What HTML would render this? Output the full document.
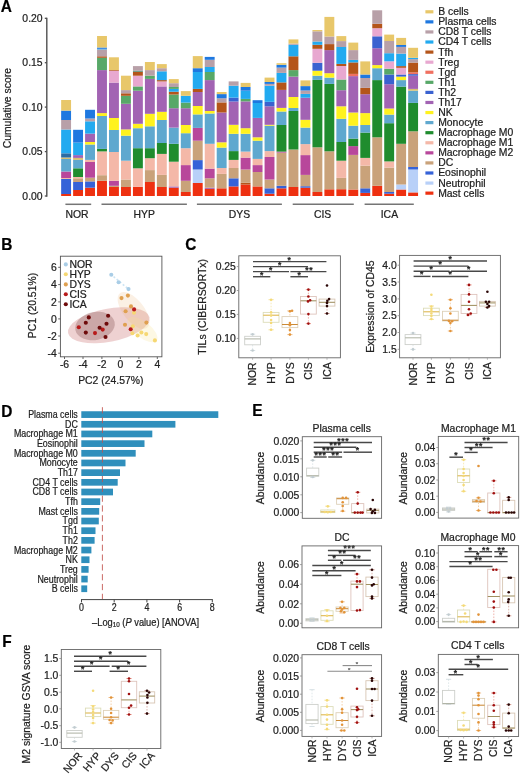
<!DOCTYPE html>
<html lang="en"><head><meta charset="utf-8"><title>Figure</title>
<style>
html,body{margin:0;padding:0;background:#fff;}
svg{display:block;font-family:"Liberation Sans", Arial, Helvetica, sans-serif;}
svg text{stroke-width:0.22px;}
</style></head>
<body>
<svg width="520" height="774" viewBox="0 0 520 774">
<rect width="520" height="774" fill="#fff"/>
<g id="panelA">
<text x="0" y="0" font-size="16.8" font-weight="bold" fill="#000" stroke="#000" transform="translate(0.8 12.4) scale(0.92 1)">A</text>
<rect x="61.15" y="194.00" width="9.90" height="2.00" fill="#EE3010"/>
<rect x="61.15" y="179.00" width="9.90" height="15.00" fill="#3562D8"/>
<rect x="61.15" y="178.00" width="9.90" height="1.00" fill="#F4B8A8"/>
<rect x="61.15" y="171.50" width="9.90" height="6.50" fill="#B8479B"/>
<rect x="61.15" y="159.00" width="9.90" height="12.50" fill="#5FA8CF"/>
<rect x="61.15" y="157.50" width="9.90" height="1.50" fill="#D8C070"/>
<rect x="61.15" y="153.30" width="9.90" height="4.20" fill="#2B6CA3"/>
<rect x="61.15" y="129.50" width="9.90" height="23.80" fill="#22AAF0"/>
<rect x="61.15" y="120.00" width="9.90" height="9.50" fill="#B8A0A8"/>
<rect x="61.15" y="110.60" width="9.90" height="9.40" fill="#1E78E0"/>
<rect x="61.15" y="100.00" width="9.90" height="10.60" fill="#E8C76A"/>
<rect x="73.12" y="190.00" width="9.90" height="6.00" fill="#EE3010"/>
<rect x="73.12" y="182.00" width="9.90" height="8.00" fill="#3562D8"/>
<rect x="73.12" y="178.30" width="9.90" height="3.70" fill="#C9A27A"/>
<rect x="73.12" y="177.00" width="9.90" height="1.30" fill="#F4B8A8"/>
<rect x="73.12" y="168.30" width="9.90" height="8.70" fill="#1F8C2E"/>
<rect x="73.12" y="159.90" width="9.90" height="8.40" fill="#5FA8CF"/>
<rect x="73.12" y="157.90" width="9.90" height="2.00" fill="#D8C070"/>
<rect x="73.12" y="155.10" width="9.90" height="2.80" fill="#A263B3"/>
<rect x="73.12" y="142.60" width="9.90" height="12.50" fill="#22AAF0"/>
<rect x="73.12" y="129.80" width="9.90" height="12.80" fill="#1E78E0"/>
<rect x="85.08" y="187.70" width="9.90" height="8.30" fill="#EE3010"/>
<rect x="85.08" y="181.40" width="9.90" height="6.30" fill="#3562D8"/>
<rect x="85.08" y="177.70" width="9.90" height="3.70" fill="#C9A27A"/>
<rect x="85.08" y="162.00" width="9.90" height="15.70" fill="#B8479B"/>
<rect x="85.08" y="159.90" width="9.90" height="2.10" fill="#F4B8A8"/>
<rect x="85.08" y="144.50" width="9.90" height="15.40" fill="#5FA8CF"/>
<rect x="85.08" y="142.00" width="9.90" height="2.50" fill="#FFF21F"/>
<rect x="85.08" y="133.60" width="9.90" height="8.40" fill="#A263B3"/>
<rect x="85.08" y="121.30" width="9.90" height="12.30" fill="#22AAF0"/>
<rect x="85.08" y="118.50" width="9.90" height="2.80" fill="#B8A0A8"/>
<rect x="85.08" y="109.80" width="9.90" height="8.70" fill="#1E78E0"/>
<rect x="97.05" y="180.80" width="9.90" height="15.20" fill="#EE3010"/>
<rect x="97.05" y="175.20" width="9.90" height="5.60" fill="#C9A27A"/>
<rect x="97.05" y="151.40" width="9.90" height="23.80" fill="#F4B8A8"/>
<rect x="97.05" y="148.90" width="9.90" height="2.50" fill="#1F8C2E"/>
<rect x="97.05" y="116.00" width="9.90" height="32.90" fill="#5FA8CF"/>
<rect x="97.05" y="113.10" width="9.90" height="2.90" fill="#FFF21F"/>
<rect x="97.05" y="70.10" width="9.90" height="43.00" fill="#A263B3"/>
<rect x="97.05" y="57.80" width="9.90" height="12.30" fill="#58A868"/>
<rect x="97.05" y="56.30" width="9.90" height="1.50" fill="#B4551A"/>
<rect x="97.05" y="49.40" width="9.90" height="6.90" fill="#B8A0A8"/>
<rect x="97.05" y="48.80" width="9.90" height="0.60" fill="#22AAF0"/>
<rect x="97.05" y="47.50" width="9.90" height="1.30" fill="#1E78E0"/>
<rect x="97.05" y="36.00" width="9.90" height="11.50" fill="#E8C76A"/>
<rect x="109.01" y="187.00" width="9.90" height="9.00" fill="#EE3010"/>
<rect x="109.01" y="185.80" width="9.90" height="1.20" fill="#C9A27A"/>
<rect x="109.01" y="180.80" width="9.90" height="5.00" fill="#B8479B"/>
<rect x="109.01" y="152.00" width="9.90" height="28.80" fill="#F4B8A8"/>
<rect x="109.01" y="130.00" width="9.90" height="22.00" fill="#5FA8CF"/>
<rect x="109.01" y="118.00" width="9.90" height="12.00" fill="#FFF21F"/>
<rect x="109.01" y="82.60" width="9.90" height="35.40" fill="#A263B3"/>
<rect x="109.01" y="70.70" width="9.90" height="11.90" fill="#E8A8D0"/>
<rect x="109.01" y="70.00" width="9.90" height="0.70" fill="#B4551A"/>
<rect x="109.01" y="57.30" width="9.90" height="12.70" fill="#E8C76A"/>
<rect x="120.98" y="187.00" width="9.90" height="9.00" fill="#EE3010"/>
<rect x="120.98" y="179.50" width="9.90" height="7.50" fill="#C9A27A"/>
<rect x="120.98" y="160.70" width="9.90" height="18.80" fill="#F4B8A8"/>
<rect x="120.98" y="135.70" width="9.90" height="25.00" fill="#5FA8CF"/>
<rect x="120.98" y="129.40" width="9.90" height="6.30" fill="#FFF21F"/>
<rect x="120.98" y="103.80" width="9.90" height="25.60" fill="#A263B3"/>
<rect x="120.98" y="95.80" width="9.90" height="8.00" fill="#58A868"/>
<rect x="120.98" y="93.30" width="9.90" height="2.50" fill="#B4551A"/>
<rect x="120.98" y="90.10" width="9.90" height="3.20" fill="#B8A0A8"/>
<rect x="120.98" y="75.70" width="9.90" height="14.40" fill="#E8C76A"/>
<rect x="132.95" y="186.80" width="9.90" height="9.20" fill="#EE3010"/>
<rect x="132.95" y="168.30" width="9.90" height="18.50" fill="#F4B8A8"/>
<rect x="132.95" y="148.20" width="9.90" height="20.10" fill="#1F8C2E"/>
<rect x="132.95" y="128.20" width="9.90" height="20.00" fill="#5FA8CF"/>
<rect x="132.95" y="123.80" width="9.90" height="4.40" fill="#FFF21F"/>
<rect x="132.95" y="90.70" width="9.90" height="33.10" fill="#A263B3"/>
<rect x="132.95" y="86.40" width="9.90" height="4.30" fill="#58A868"/>
<rect x="132.95" y="75.70" width="9.90" height="10.70" fill="#E8A8D0"/>
<rect x="132.95" y="71.60" width="9.90" height="4.10" fill="#B4551A"/>
<rect x="132.95" y="70.70" width="9.90" height="0.90" fill="#2E8B7A"/>
<rect x="132.95" y="66.10" width="9.90" height="4.60" fill="#B8A0A8"/>
<rect x="144.91" y="182.00" width="9.90" height="14.00" fill="#EE3010"/>
<rect x="144.91" y="170.10" width="9.90" height="11.90" fill="#C9A27A"/>
<rect x="144.91" y="158.20" width="9.90" height="11.90" fill="#F4B8A8"/>
<rect x="144.91" y="148.20" width="9.90" height="10.00" fill="#1F8C2E"/>
<rect x="144.91" y="126.30" width="9.90" height="21.90" fill="#5FA8CF"/>
<rect x="144.91" y="113.80" width="9.90" height="12.50" fill="#FFF21F"/>
<rect x="144.91" y="78.90" width="9.90" height="34.90" fill="#A263B3"/>
<rect x="144.91" y="75.70" width="9.90" height="3.20" fill="#58A868"/>
<rect x="144.91" y="70.10" width="9.90" height="5.60" fill="#B8A0A8"/>
<rect x="144.91" y="62.00" width="9.90" height="8.10" fill="#E8C76A"/>
<rect x="156.88" y="187.00" width="9.90" height="9.00" fill="#EE3010"/>
<rect x="156.88" y="174.90" width="9.90" height="12.10" fill="#C9A27A"/>
<rect x="156.88" y="153.90" width="9.90" height="21.00" fill="#F4B8A8"/>
<rect x="156.88" y="143.00" width="9.90" height="10.90" fill="#1F8C2E"/>
<rect x="156.88" y="120.00" width="9.90" height="23.00" fill="#5FA8CF"/>
<rect x="156.88" y="111.80" width="9.90" height="8.20" fill="#FFF21F"/>
<rect x="156.88" y="86.40" width="9.90" height="25.40" fill="#A263B3"/>
<rect x="156.88" y="81.40" width="9.90" height="5.00" fill="#E8A8D0"/>
<rect x="156.88" y="80.10" width="9.90" height="1.30" fill="#B4551A"/>
<rect x="156.88" y="71.30" width="9.90" height="8.80" fill="#22AAF0"/>
<rect x="156.88" y="68.20" width="9.90" height="3.10" fill="#B8A0A8"/>
<rect x="156.88" y="64.10" width="9.90" height="4.10" fill="#E8C76A"/>
<rect x="168.84" y="187.70" width="9.90" height="8.30" fill="#EE3010"/>
<rect x="168.84" y="186.40" width="9.90" height="1.30" fill="#A263B3"/>
<rect x="168.84" y="161.70" width="9.90" height="24.70" fill="#F4B8A8"/>
<rect x="168.84" y="143.80" width="9.90" height="17.90" fill="#1F8C2E"/>
<rect x="168.84" y="127.60" width="9.90" height="16.20" fill="#5FA8CF"/>
<rect x="168.84" y="108.20" width="9.90" height="19.40" fill="#A263B3"/>
<rect x="168.84" y="94.50" width="9.90" height="13.70" fill="#58A868"/>
<rect x="168.84" y="91.70" width="9.90" height="2.80" fill="#B4551A"/>
<rect x="168.84" y="88.90" width="9.90" height="2.80" fill="#22AAF0"/>
<rect x="168.84" y="87.00" width="9.90" height="1.90" fill="#58A868"/>
<rect x="168.84" y="83.20" width="9.90" height="3.80" fill="#B8A0A8"/>
<rect x="168.84" y="79.10" width="9.90" height="4.10" fill="#E8C76A"/>
<rect x="180.81" y="192.00" width="9.90" height="4.00" fill="#EE3010"/>
<rect x="180.81" y="180.80" width="9.90" height="11.20" fill="#C9A27A"/>
<rect x="180.81" y="165.10" width="9.90" height="15.70" fill="#B8479B"/>
<rect x="180.81" y="148.20" width="9.90" height="16.90" fill="#F4B8A8"/>
<rect x="180.81" y="133.20" width="9.90" height="15.00" fill="#5FA8CF"/>
<rect x="180.81" y="125.00" width="9.90" height="8.20" fill="#FFF21F"/>
<rect x="180.81" y="108.20" width="9.90" height="16.80" fill="#A263B3"/>
<rect x="180.81" y="102.60" width="9.90" height="5.60" fill="#58A868"/>
<rect x="180.81" y="95.80" width="9.90" height="6.80" fill="#22AAF0"/>
<rect x="180.81" y="91.10" width="9.90" height="4.70" fill="#E8C76A"/>
<rect x="192.78" y="183.00" width="9.90" height="13.00" fill="#EE3010"/>
<rect x="192.78" y="169.50" width="9.90" height="13.50" fill="#B8D0F8"/>
<rect x="192.78" y="160.10" width="9.90" height="9.40" fill="#3562D8"/>
<rect x="192.78" y="140.70" width="9.90" height="19.40" fill="#C9A27A"/>
<rect x="192.78" y="127.90" width="9.90" height="12.80" fill="#B8479B"/>
<rect x="192.78" y="114.40" width="9.90" height="13.50" fill="#5FA8CF"/>
<rect x="192.78" y="106.00" width="9.90" height="8.40" fill="#FFF21F"/>
<rect x="192.78" y="92.00" width="9.90" height="14.00" fill="#A263B3"/>
<rect x="192.78" y="88.90" width="9.90" height="3.10" fill="#B4551A"/>
<rect x="192.78" y="72.00" width="9.90" height="16.90" fill="#22AAF0"/>
<rect x="192.78" y="68.20" width="9.90" height="3.80" fill="#1E78E0"/>
<rect x="192.78" y="56.10" width="9.90" height="12.10" fill="#E8C76A"/>
<rect x="204.74" y="188.90" width="9.90" height="7.10" fill="#EE3010"/>
<rect x="204.74" y="187.70" width="9.90" height="1.20" fill="#A263B3"/>
<rect x="204.74" y="178.30" width="9.90" height="9.40" fill="#C9A27A"/>
<rect x="204.74" y="168.60" width="9.90" height="9.70" fill="#B8479B"/>
<rect x="204.74" y="143.80" width="9.90" height="24.80" fill="#F4B8A8"/>
<rect x="204.74" y="113.50" width="9.90" height="30.30" fill="#5FA8CF"/>
<rect x="204.74" y="111.00" width="9.90" height="2.50" fill="#FFF21F"/>
<rect x="204.74" y="80.10" width="9.90" height="30.90" fill="#A263B3"/>
<rect x="204.74" y="72.00" width="9.90" height="8.10" fill="#58A868"/>
<rect x="204.74" y="67.00" width="9.90" height="5.00" fill="#22AAF0"/>
<rect x="204.74" y="59.80" width="9.90" height="7.20" fill="#B8A0A8"/>
<rect x="204.74" y="56.90" width="9.90" height="2.90" fill="#1E78E0"/>
<rect x="216.71" y="188.30" width="9.90" height="7.70" fill="#EE3010"/>
<rect x="216.71" y="173.90" width="9.90" height="14.40" fill="#C9A27A"/>
<rect x="216.71" y="168.00" width="9.90" height="5.90" fill="#F4B8A8"/>
<rect x="216.71" y="147.60" width="9.90" height="20.40" fill="#5FA8CF"/>
<rect x="216.71" y="142.30" width="9.90" height="5.30" fill="#FFF21F"/>
<rect x="216.71" y="112.50" width="9.90" height="29.80" fill="#A263B3"/>
<rect x="216.71" y="102.40" width="9.90" height="10.10" fill="#B4551A"/>
<rect x="216.71" y="98.30" width="9.90" height="4.10" fill="#B8A0A8"/>
<rect x="216.71" y="94.10" width="9.90" height="4.20" fill="#1E78E0"/>
<rect x="216.71" y="92.00" width="9.90" height="2.10" fill="#E8C76A"/>
<rect x="228.67" y="186.40" width="9.90" height="9.60" fill="#EE3010"/>
<rect x="228.67" y="178.30" width="9.90" height="8.10" fill="#3562D8"/>
<rect x="228.67" y="168.00" width="9.90" height="10.30" fill="#C9A27A"/>
<rect x="228.67" y="159.90" width="9.90" height="8.10" fill="#F4B8A8"/>
<rect x="228.67" y="151.10" width="9.90" height="8.80" fill="#1F8C2E"/>
<rect x="228.67" y="133.80" width="9.90" height="17.30" fill="#5FA8CF"/>
<rect x="228.67" y="124.80" width="9.90" height="9.00" fill="#FFF21F"/>
<rect x="228.67" y="101.50" width="9.90" height="23.30" fill="#A263B3"/>
<rect x="228.67" y="97.60" width="9.90" height="3.90" fill="#3A62D0"/>
<rect x="228.67" y="85.70" width="9.90" height="11.90" fill="#22AAF0"/>
<rect x="228.67" y="81.40" width="9.90" height="4.30" fill="#B8A0A8"/>
<rect x="240.64" y="184.50" width="9.90" height="11.50" fill="#EE3010"/>
<rect x="240.64" y="182.70" width="9.90" height="1.80" fill="#B4551A"/>
<rect x="240.64" y="169.50" width="9.90" height="13.20" fill="#C9A27A"/>
<rect x="240.64" y="157.60" width="9.90" height="11.90" fill="#B8479B"/>
<rect x="240.64" y="151.60" width="9.90" height="6.00" fill="#F4B8A8"/>
<rect x="240.64" y="133.80" width="9.90" height="17.80" fill="#5FA8CF"/>
<rect x="240.64" y="128.20" width="9.90" height="5.60" fill="#FFF21F"/>
<rect x="240.64" y="101.40" width="9.90" height="26.80" fill="#A263B3"/>
<rect x="240.64" y="98.90" width="9.90" height="2.50" fill="#58A868"/>
<rect x="240.64" y="90.70" width="9.90" height="8.20" fill="#22AAF0"/>
<rect x="240.64" y="87.00" width="9.90" height="3.70" fill="#1E78E0"/>
<rect x="240.64" y="82.90" width="9.90" height="4.10" fill="#E8C76A"/>
<rect x="252.61" y="186.40" width="9.90" height="9.60" fill="#EE3010"/>
<rect x="252.61" y="172.00" width="9.90" height="14.40" fill="#C9A27A"/>
<rect x="252.61" y="165.10" width="9.90" height="6.90" fill="#B8479B"/>
<rect x="252.61" y="158.90" width="9.90" height="6.20" fill="#F4B8A8"/>
<rect x="252.61" y="140.70" width="9.90" height="18.20" fill="#5FA8CF"/>
<rect x="252.61" y="137.30" width="9.90" height="3.40" fill="#FFF21F"/>
<rect x="252.61" y="117.90" width="9.90" height="19.40" fill="#A263B3"/>
<rect x="252.61" y="103.00" width="9.90" height="14.90" fill="#22AAF0"/>
<rect x="252.61" y="100.20" width="9.90" height="2.80" fill="#1E78E0"/>
<rect x="264.57" y="193.70" width="9.90" height="2.30" fill="#EE3010"/>
<rect x="264.57" y="188.30" width="9.90" height="5.40" fill="#3562D8"/>
<rect x="264.57" y="179.50" width="9.90" height="8.80" fill="#C9A27A"/>
<rect x="264.57" y="157.00" width="9.90" height="22.50" fill="#B8479B"/>
<rect x="264.57" y="151.10" width="9.90" height="5.90" fill="#F4B8A8"/>
<rect x="264.57" y="125.70" width="9.90" height="25.40" fill="#5FA8CF"/>
<rect x="264.57" y="124.80" width="9.90" height="0.90" fill="#FFF21F"/>
<rect x="264.57" y="106.30" width="9.90" height="18.50" fill="#A263B3"/>
<rect x="264.57" y="101.80" width="9.90" height="4.50" fill="#3A62D0"/>
<rect x="264.57" y="85.70" width="9.90" height="16.10" fill="#22AAF0"/>
<rect x="264.57" y="83.90" width="9.90" height="1.80" fill="#B8A0A8"/>
<rect x="264.57" y="82.00" width="9.90" height="1.90" fill="#1E78E0"/>
<rect x="264.57" y="77.60" width="9.90" height="4.40" fill="#E8C76A"/>
<rect x="276.54" y="188.30" width="9.90" height="7.70" fill="#EE3010"/>
<rect x="276.54" y="185.80" width="9.90" height="2.50" fill="#3562D8"/>
<rect x="276.54" y="152.60" width="9.90" height="33.20" fill="#C9A27A"/>
<rect x="276.54" y="151.60" width="9.90" height="1.00" fill="#B8479B"/>
<rect x="276.54" y="125.00" width="9.90" height="26.60" fill="#1F8C2E"/>
<rect x="276.54" y="111.50" width="9.90" height="13.50" fill="#5FA8CF"/>
<rect x="276.54" y="107.90" width="9.90" height="3.60" fill="#FFF21F"/>
<rect x="276.54" y="89.90" width="9.90" height="18.00" fill="#A263B3"/>
<rect x="276.54" y="82.40" width="9.90" height="7.50" fill="#B4551A"/>
<rect x="276.54" y="72.90" width="9.90" height="9.50" fill="#22AAF0"/>
<rect x="276.54" y="67.60" width="9.90" height="5.30" fill="#B8A0A8"/>
<rect x="276.54" y="64.80" width="9.90" height="2.80" fill="#1E78E0"/>
<rect x="276.54" y="63.20" width="9.90" height="1.60" fill="#E8C76A"/>
<rect x="288.50" y="187.00" width="9.90" height="9.00" fill="#EE3010"/>
<rect x="288.50" y="149.50" width="9.90" height="37.50" fill="#C9A27A"/>
<rect x="288.50" y="111.00" width="9.90" height="38.50" fill="#1F8C2E"/>
<rect x="288.50" y="108.00" width="9.90" height="3.00" fill="#5FA8CF"/>
<rect x="288.50" y="97.00" width="9.90" height="11.00" fill="#FFF21F"/>
<rect x="288.50" y="76.60" width="9.90" height="20.40" fill="#A263B3"/>
<rect x="288.50" y="70.10" width="9.90" height="6.50" fill="#58A868"/>
<rect x="288.50" y="56.30" width="9.90" height="13.80" fill="#B4551A"/>
<rect x="288.50" y="44.80" width="9.90" height="11.50" fill="#22AAF0"/>
<rect x="288.50" y="43.60" width="9.90" height="1.20" fill="#B8A0A8"/>
<rect x="288.50" y="39.40" width="9.90" height="4.20" fill="#E8C76A"/>
<rect x="300.47" y="187.70" width="9.90" height="8.30" fill="#EE3010"/>
<rect x="300.47" y="186.20" width="9.90" height="1.50" fill="#3562D8"/>
<rect x="300.47" y="174.90" width="9.90" height="11.30" fill="#C9A27A"/>
<rect x="300.47" y="155.10" width="9.90" height="19.80" fill="#B8479B"/>
<rect x="300.47" y="144.10" width="9.90" height="11.00" fill="#F4B8A8"/>
<rect x="300.47" y="127.60" width="9.90" height="16.50" fill="#5FA8CF"/>
<rect x="300.47" y="119.80" width="9.90" height="7.80" fill="#FFF21F"/>
<rect x="300.47" y="97.70" width="9.90" height="22.10" fill="#A263B3"/>
<rect x="300.47" y="93.90" width="9.90" height="3.80" fill="#22AAF0"/>
<rect x="300.47" y="90.50" width="9.90" height="3.40" fill="#B8A0A8"/>
<rect x="300.47" y="86.10" width="9.90" height="4.40" fill="#1E78E0"/>
<rect x="300.47" y="80.40" width="9.90" height="5.70" fill="#E8C76A"/>
<rect x="312.44" y="192.00" width="9.90" height="4.00" fill="#EE3010"/>
<rect x="312.44" y="147.30" width="9.90" height="44.70" fill="#C9A27A"/>
<rect x="312.44" y="79.90" width="9.90" height="67.40" fill="#1F8C2E"/>
<rect x="312.44" y="75.70" width="9.90" height="4.20" fill="#5FA8CF"/>
<rect x="312.44" y="70.70" width="9.90" height="5.00" fill="#FFF21F"/>
<rect x="312.44" y="62.80" width="9.90" height="7.90" fill="#3A62D0"/>
<rect x="312.44" y="48.80" width="9.90" height="14.00" fill="#E8A8D0"/>
<rect x="312.44" y="44.80" width="9.90" height="4.00" fill="#B4551A"/>
<rect x="312.44" y="41.50" width="9.90" height="3.30" fill="#22AAF0"/>
<rect x="312.44" y="31.30" width="9.90" height="10.20" fill="#B8A0A8"/>
<rect x="312.44" y="30.00" width="9.90" height="1.30" fill="#E8C76A"/>
<rect x="324.40" y="189.30" width="9.90" height="6.70" fill="#EE3010"/>
<rect x="324.40" y="151.30" width="9.90" height="38.00" fill="#C9A27A"/>
<rect x="324.40" y="83.90" width="9.90" height="67.40" fill="#1F8C2E"/>
<rect x="324.40" y="77.60" width="9.90" height="6.30" fill="#5FA8CF"/>
<rect x="324.40" y="73.20" width="9.90" height="4.40" fill="#FFF21F"/>
<rect x="324.40" y="50.10" width="9.90" height="23.10" fill="#A263B3"/>
<rect x="324.40" y="44.10" width="9.90" height="6.00" fill="#B4551A"/>
<rect x="324.40" y="36.50" width="9.90" height="7.60" fill="#B8A0A8"/>
<rect x="324.40" y="16.90" width="9.90" height="19.60" fill="#E8C76A"/>
<rect x="336.37" y="189.20" width="9.90" height="6.80" fill="#EE3010"/>
<rect x="336.37" y="177.90" width="9.90" height="11.30" fill="#C9A27A"/>
<rect x="336.37" y="160.70" width="9.90" height="17.20" fill="#F4B8A8"/>
<rect x="336.37" y="142.00" width="9.90" height="18.70" fill="#1F8C2E"/>
<rect x="336.37" y="118.80" width="9.90" height="23.20" fill="#5FA8CF"/>
<rect x="336.37" y="106.30" width="9.90" height="12.50" fill="#FFF21F"/>
<rect x="336.37" y="90.20" width="9.90" height="16.10" fill="#A263B3"/>
<rect x="336.37" y="79.50" width="9.90" height="10.70" fill="#58A868"/>
<rect x="336.37" y="66.00" width="9.90" height="13.50" fill="#E8A8D0"/>
<rect x="336.37" y="63.90" width="9.90" height="2.10" fill="#B4551A"/>
<rect x="336.37" y="47.00" width="9.90" height="16.90" fill="#22AAF0"/>
<rect x="336.37" y="41.10" width="9.90" height="5.90" fill="#B8A0A8"/>
<rect x="336.37" y="36.10" width="9.90" height="5.00" fill="#E8C76A"/>
<rect x="348.33" y="189.50" width="9.90" height="6.50" fill="#EE3010"/>
<rect x="348.33" y="154.90" width="9.90" height="34.60" fill="#C9A27A"/>
<rect x="348.33" y="146.10" width="9.90" height="8.80" fill="#B8479B"/>
<rect x="348.33" y="138.60" width="9.90" height="7.50" fill="#1F8C2E"/>
<rect x="348.33" y="125.70" width="9.90" height="12.90" fill="#5FA8CF"/>
<rect x="348.33" y="112.50" width="9.90" height="13.20" fill="#FFF21F"/>
<rect x="348.33" y="76.10" width="9.90" height="36.40" fill="#A263B3"/>
<rect x="348.33" y="73.90" width="9.90" height="2.20" fill="#F07060"/>
<rect x="348.33" y="62.40" width="9.90" height="11.50" fill="#B4551A"/>
<rect x="348.33" y="59.90" width="9.90" height="2.50" fill="#22AAF0"/>
<rect x="348.33" y="50.10" width="9.90" height="9.80" fill="#B8A0A8"/>
<rect x="348.33" y="42.60" width="9.90" height="7.50" fill="#E8C76A"/>
<rect x="360.30" y="192.90" width="9.90" height="3.10" fill="#EE3010"/>
<rect x="360.30" y="188.30" width="9.90" height="4.60" fill="#3562D8"/>
<rect x="360.30" y="165.70" width="9.90" height="22.60" fill="#C9A27A"/>
<rect x="360.30" y="157.90" width="9.90" height="7.80" fill="#F4B8A8"/>
<rect x="360.30" y="132.60" width="9.90" height="25.30" fill="#1F8C2E"/>
<rect x="360.30" y="125.00" width="9.90" height="7.60" fill="#5FA8CF"/>
<rect x="360.30" y="113.10" width="9.90" height="11.90" fill="#FFF21F"/>
<rect x="360.30" y="94.20" width="9.90" height="18.90" fill="#A263B3"/>
<rect x="360.30" y="87.90" width="9.90" height="6.30" fill="#B4551A"/>
<rect x="360.30" y="78.00" width="9.90" height="9.90" fill="#B8A0A8"/>
<rect x="360.30" y="74.50" width="9.90" height="3.50" fill="#1E78E0"/>
<rect x="360.30" y="61.40" width="9.90" height="13.10" fill="#E8C76A"/>
<rect x="372.27" y="185.80" width="9.90" height="10.20" fill="#EE3010"/>
<rect x="372.27" y="137.30" width="9.90" height="48.50" fill="#C9A27A"/>
<rect x="372.27" y="80.10" width="9.90" height="57.20" fill="#1F8C2E"/>
<rect x="372.27" y="68.20" width="9.90" height="11.90" fill="#5FA8CF"/>
<rect x="372.27" y="65.10" width="9.90" height="3.10" fill="#FFF21F"/>
<rect x="372.27" y="48.20" width="9.90" height="16.90" fill="#A263B3"/>
<rect x="372.27" y="36.30" width="9.90" height="11.90" fill="#3A62D0"/>
<rect x="372.27" y="28.20" width="9.90" height="8.10" fill="#E8A8D0"/>
<rect x="372.27" y="23.80" width="9.90" height="4.40" fill="#B4551A"/>
<rect x="372.27" y="10.30" width="9.90" height="13.50" fill="#B8A0A8"/>
<rect x="384.23" y="193.70" width="9.90" height="2.30" fill="#EE3010"/>
<rect x="384.23" y="192.00" width="9.90" height="1.70" fill="#3562D8"/>
<rect x="384.23" y="167.60" width="9.90" height="24.40" fill="#C9A27A"/>
<rect x="384.23" y="161.40" width="9.90" height="6.20" fill="#F4B8A8"/>
<rect x="384.23" y="123.20" width="9.90" height="38.20" fill="#1F8C2E"/>
<rect x="384.23" y="114.60" width="9.90" height="8.60" fill="#5FA8CF"/>
<rect x="384.23" y="108.50" width="9.90" height="6.10" fill="#FFF21F"/>
<rect x="384.23" y="84.20" width="9.90" height="24.30" fill="#A263B3"/>
<rect x="384.23" y="74.50" width="9.90" height="9.70" fill="#3A62D0"/>
<rect x="384.23" y="68.70" width="9.90" height="5.80" fill="#58A868"/>
<rect x="384.23" y="61.30" width="9.90" height="7.40" fill="#E8A8D0"/>
<rect x="384.23" y="53.20" width="9.90" height="8.10" fill="#22AAF0"/>
<rect x="384.23" y="41.00" width="9.90" height="12.20" fill="#B8A0A8"/>
<rect x="384.23" y="34.60" width="9.90" height="6.40" fill="#E8C76A"/>
<rect x="396.20" y="189.50" width="9.90" height="6.50" fill="#EE3010"/>
<rect x="396.20" y="184.50" width="9.90" height="5.00" fill="#B8D0F8"/>
<rect x="396.20" y="143.80" width="9.90" height="40.70" fill="#C9A27A"/>
<rect x="396.20" y="86.60" width="9.90" height="57.20" fill="#1F8C2E"/>
<rect x="396.20" y="80.10" width="9.90" height="6.50" fill="#5FA8CF"/>
<rect x="396.20" y="76.60" width="9.90" height="3.50" fill="#FFF21F"/>
<rect x="396.20" y="74.50" width="9.90" height="2.10" fill="#3A62D0"/>
<rect x="396.20" y="67.80" width="9.90" height="6.70" fill="#E8A8D0"/>
<rect x="396.20" y="66.10" width="9.90" height="1.70" fill="#B4551A"/>
<rect x="396.20" y="53.60" width="9.90" height="12.50" fill="#22AAF0"/>
<rect x="396.20" y="46.90" width="9.90" height="6.70" fill="#B8A0A8"/>
<rect x="396.20" y="45.00" width="9.90" height="1.90" fill="#1E78E0"/>
<rect x="396.20" y="37.90" width="9.90" height="7.10" fill="#E8C76A"/>
<rect x="408.16" y="192.40" width="9.90" height="3.60" fill="#EE3010"/>
<rect x="408.16" y="169.50" width="9.90" height="22.90" fill="#B8D0F8"/>
<rect x="408.16" y="167.00" width="9.90" height="2.50" fill="#3562D8"/>
<rect x="408.16" y="131.30" width="9.90" height="35.70" fill="#C9A27A"/>
<rect x="408.16" y="102.90" width="9.90" height="28.40" fill="#1F8C2E"/>
<rect x="408.16" y="90.70" width="9.90" height="12.20" fill="#5FA8CF"/>
<rect x="408.16" y="88.90" width="9.90" height="1.80" fill="#D8C070"/>
<rect x="408.16" y="75.70" width="9.90" height="13.20" fill="#A263B3"/>
<rect x="408.16" y="74.10" width="9.90" height="1.60" fill="#3A62D0"/>
<rect x="408.16" y="72.30" width="9.90" height="1.80" fill="#F07060"/>
<rect x="408.16" y="62.60" width="9.90" height="9.70" fill="#B4551A"/>
<rect x="408.16" y="59.10" width="9.90" height="3.50" fill="#B8A0A8"/>
<rect x="408.16" y="57.80" width="9.90" height="1.30" fill="#22AAF0"/>
<rect x="408.16" y="47.80" width="9.90" height="10.00" fill="#E8C76A"/>
<line x1="46.8" y1="17.7" x2="46.8" y2="196.7" stroke="#505050" stroke-width="1.4"/>
<line x1="44.8" y1="18.3" x2="46.8" y2="18.3" stroke="#505050" stroke-width="1.3"/>
<text x="42.6" y="22.0" font-size="10.4" text-anchor="end" fill="#222" stroke="#222">0.20</text>
<line x1="44.8" y1="62.7" x2="46.8" y2="62.7" stroke="#505050" stroke-width="1.3"/>
<text x="42.6" y="66.4" font-size="10.4" text-anchor="end" fill="#222" stroke="#222">0.15</text>
<line x1="44.8" y1="107.1" x2="46.8" y2="107.1" stroke="#505050" stroke-width="1.3"/>
<text x="42.6" y="110.8" font-size="10.4" text-anchor="end" fill="#222" stroke="#222">0.10</text>
<line x1="44.8" y1="151.6" x2="46.8" y2="151.6" stroke="#505050" stroke-width="1.3"/>
<text x="42.6" y="155.3" font-size="10.4" text-anchor="end" fill="#222" stroke="#222">0.05</text>
<line x1="44.8" y1="196.0" x2="46.8" y2="196.0" stroke="#505050" stroke-width="1.3"/>
<text x="42.6" y="199.7" font-size="10.4" text-anchor="end" fill="#222" stroke="#222">0.00</text>
<text x="11.2" y="108.2" font-size="10.4" text-anchor="middle" fill="#222" stroke="#222" transform="rotate(-90 11.2 108.2)">Cumulative score</text>
<line x1="65.4" y1="204.3" x2="91.2" y2="204.3" stroke="#757575" stroke-width="1.5"/>
<text x="77.0" y="217.6" font-size="10.4" text-anchor="middle" fill="#222" stroke="#222">NOR</text>
<line x1="101.5" y1="204.3" x2="186.9" y2="204.3" stroke="#757575" stroke-width="1.5"/>
<text x="144.2" y="217.6" font-size="10.4" text-anchor="middle" fill="#222" stroke="#222">HYP</text>
<line x1="196.9" y1="204.3" x2="281.9" y2="204.3" stroke="#757575" stroke-width="1.5"/>
<text x="239.4" y="217.6" font-size="10.4" text-anchor="middle" fill="#222" stroke="#222">DYS</text>
<line x1="292.7" y1="204.3" x2="353.8" y2="204.3" stroke="#757575" stroke-width="1.5"/>
<text x="322.6" y="217.6" font-size="10.4" text-anchor="middle" fill="#222" stroke="#222">CIS</text>
<line x1="364.6" y1="204.3" x2="413.8" y2="204.3" stroke="#757575" stroke-width="1.5"/>
<text x="389.4" y="217.6" font-size="10.4" text-anchor="middle" fill="#222" stroke="#222">ICA</text>
<rect x="425.40" y="10.20" width="8.00" height="3.20" fill="#E8C76A"/>
<text x="438.2" y="15.2" font-size="10.4" fill="#222" stroke="#222">B cells</text>
<rect x="425.40" y="20.27" width="8.00" height="3.20" fill="#1E78E0"/>
<text x="438.2" y="25.3" font-size="10.4" fill="#222" stroke="#222">Plasma cells</text>
<rect x="425.40" y="30.35" width="8.00" height="3.20" fill="#B8A0A8"/>
<text x="438.2" y="35.3" font-size="10.4" fill="#222" stroke="#222">CD8 T cells</text>
<rect x="425.40" y="40.42" width="8.00" height="3.20" fill="#22AAF0"/>
<text x="438.2" y="45.4" font-size="10.4" fill="#222" stroke="#222">CD4 T cells</text>
<rect x="425.40" y="50.50" width="8.00" height="3.20" fill="#B4551A"/>
<text x="438.2" y="55.5" font-size="10.4" fill="#222" stroke="#222">Tfh</text>
<rect x="425.40" y="60.58" width="8.00" height="3.20" fill="#E8A8D0"/>
<text x="438.2" y="65.6" font-size="10.4" fill="#222" stroke="#222">Treg</text>
<rect x="425.40" y="70.65" width="8.00" height="3.20" fill="#F07060"/>
<text x="438.2" y="75.6" font-size="10.4" fill="#222" stroke="#222">Tgd</text>
<rect x="425.40" y="80.72" width="8.00" height="3.20" fill="#58A868"/>
<text x="438.2" y="85.7" font-size="10.4" fill="#222" stroke="#222">Th1</text>
<rect x="425.40" y="90.80" width="8.00" height="3.20" fill="#3A62D0"/>
<text x="438.2" y="95.8" font-size="10.4" fill="#222" stroke="#222">Th2</text>
<rect x="425.40" y="100.88" width="8.00" height="3.20" fill="#A263B3"/>
<text x="438.2" y="105.9" font-size="10.4" fill="#222" stroke="#222">Th17</text>
<rect x="425.40" y="110.95" width="8.00" height="3.20" fill="#FFF21F"/>
<text x="438.2" y="116.0" font-size="10.4" fill="#222" stroke="#222">NK</text>
<rect x="425.40" y="121.02" width="8.00" height="3.20" fill="#5FA8CF"/>
<text x="438.2" y="126.0" font-size="10.4" fill="#222" stroke="#222">Monocyte</text>
<rect x="425.40" y="131.10" width="8.00" height="3.20" fill="#1F8C2E"/>
<text x="438.2" y="136.1" font-size="10.4" fill="#222" stroke="#222">Macrophage M0</text>
<rect x="425.40" y="141.17" width="8.00" height="3.20" fill="#F4B8A8"/>
<text x="438.2" y="146.2" font-size="10.4" fill="#222" stroke="#222">Macrophage M1</text>
<rect x="425.40" y="151.25" width="8.00" height="3.20" fill="#B8479B"/>
<text x="438.2" y="156.2" font-size="10.4" fill="#222" stroke="#222">Macrophage M2</text>
<rect x="425.40" y="161.32" width="8.00" height="3.20" fill="#C9A27A"/>
<text x="438.2" y="166.3" font-size="10.4" fill="#222" stroke="#222">DC</text>
<rect x="425.40" y="171.40" width="8.00" height="3.20" fill="#3562D8"/>
<text x="438.2" y="176.4" font-size="10.4" fill="#222" stroke="#222">Eosinophil</text>
<rect x="425.40" y="181.47" width="8.00" height="3.20" fill="#B8D0F8"/>
<text x="438.2" y="186.5" font-size="10.4" fill="#222" stroke="#222">Neutrophil</text>
<rect x="425.40" y="191.55" width="8.00" height="3.20" fill="#EE3010"/>
<text x="438.2" y="196.5" font-size="10.4" fill="#222" stroke="#222">Mast cells</text>
</g>
<g id="panelB">
<text x="0" y="0" font-size="16.8" font-weight="bold" fill="#000" stroke="#000" transform="translate(1.3 249.6) scale(0.92 1)">B</text>
<ellipse cx="108.8" cy="325.2" rx="41.5" ry="16.5" transform="rotate(-11 108.8 325.2)" fill="#B84040" fill-opacity="0.24"/>
<ellipse cx="95.0" cy="326.0" rx="20" ry="14" transform="rotate(-12 95 326)" fill="#6A3030" fill-opacity="0.26"/>
<ellipse cx="133.5" cy="310.5" rx="22" ry="10.5" transform="rotate(52 133.5 310.5)" fill="#E8A860" fill-opacity="0.17"/>
<ellipse cx="142.5" cy="329.5" rx="18" ry="8" transform="rotate(38 142.5 329.5)" fill="#F8E090" fill-opacity="0.24"/>
<line x1="110.5" y1="274" x2="129.3" y2="289.8" stroke="#BFDDF0" stroke-width="1.6" stroke-dasharray="2 2" stroke-opacity="0.8"/>
<circle cx="111.3" cy="274.8" r="2.05" fill="#A9CDE6"/>
<circle cx="118.6" cy="282.3" r="2.05" fill="#A9CDE6"/>
<circle cx="128.5" cy="289.1" r="2.05" fill="#A9CDE6"/>
<circle cx="134" cy="312.8" r="2.05" fill="#F6D873"/>
<circle cx="132.8" cy="326.3" r="2.05" fill="#F6D873"/>
<circle cx="132.4" cy="333.3" r="2.05" fill="#F6D873"/>
<circle cx="137.6" cy="335.5" r="2.05" fill="#F6D873"/>
<circle cx="141.4" cy="332.5" r="2.05" fill="#F6D873"/>
<circle cx="146.2" cy="334.1" r="2.05" fill="#F6D873"/>
<circle cx="154.9" cy="340.4" r="2.05" fill="#F6D873"/>
<circle cx="121.5" cy="298.1" r="2.05" fill="#DFA050"/>
<circle cx="127.9" cy="295.6" r="2.05" fill="#DFA050"/>
<circle cx="131" cy="306.4" r="2.05" fill="#DFA050"/>
<circle cx="125.6" cy="311.3" r="2.05" fill="#DFA050"/>
<circle cx="125" cy="324.7" r="2.05" fill="#DFA050"/>
<circle cx="146.4" cy="322.6" r="2.05" fill="#DFA050"/>
<circle cx="134.1" cy="309.4" r="2.05" fill="#B81A1A"/>
<circle cx="130.7" cy="329.3" r="2.05" fill="#B81A1A"/>
<circle cx="78.8" cy="327.3" r="2.05" fill="#B81A1A"/>
<circle cx="95" cy="333.1" r="2.05" fill="#B81A1A"/>
<circle cx="102.7" cy="329.6" r="2.05" fill="#B81A1A"/>
<circle cx="88.8" cy="317.4" r="2.05" fill="#6E0A0A"/>
<circle cx="108.1" cy="315.7" r="2.05" fill="#6E0A0A"/>
<circle cx="85.8" cy="322.7" r="2.05" fill="#6E0A0A"/>
<circle cx="106.5" cy="323.8" r="2.05" fill="#6E0A0A"/>
<circle cx="99.6" cy="327.8" r="2.05" fill="#6E0A0A"/>
<circle cx="85.8" cy="332.6" r="2.05" fill="#6E0A0A"/>
<circle cx="105.5" cy="337" r="2.05" fill="#6E0A0A"/>
<rect x="60.4" y="256.2" width="101.5" height="100.6" fill="none" stroke="#555" stroke-width="0.9"/>
<line x1="58.2" y1="267.3" x2="60.4" y2="267.3" stroke="#555" stroke-width="0.9"/>
<text x="56.8" y="271.0" font-size="10.4" text-anchor="end" fill="#222" stroke="#222">6</text>
<line x1="58.2" y1="284.6" x2="60.4" y2="284.6" stroke="#555" stroke-width="0.9"/>
<text x="56.8" y="288.3" font-size="10.4" text-anchor="end" fill="#222" stroke="#222">4</text>
<line x1="58.2" y1="301.9" x2="60.4" y2="301.9" stroke="#555" stroke-width="0.9"/>
<text x="56.8" y="305.6" font-size="10.4" text-anchor="end" fill="#222" stroke="#222">2</text>
<line x1="58.2" y1="318.9" x2="60.4" y2="318.9" stroke="#555" stroke-width="0.9"/>
<text x="56.8" y="322.6" font-size="10.4" text-anchor="end" fill="#222" stroke="#222">0</text>
<line x1="58.2" y1="336.0" x2="60.4" y2="336.0" stroke="#555" stroke-width="0.9"/>
<text x="56.8" y="339.7" font-size="10.4" text-anchor="end" fill="#222" stroke="#222">-2</text>
<line x1="58.2" y1="353.2" x2="60.4" y2="353.2" stroke="#555" stroke-width="0.9"/>
<text x="56.8" y="356.9" font-size="10.4" text-anchor="end" fill="#222" stroke="#222">-4</text>
<line x1="64.5" y1="356.8" x2="64.5" y2="359.0" stroke="#555" stroke-width="0.9"/>
<text x="64.5" y="368.2" font-size="10.4" text-anchor="middle" fill="#222" stroke="#222">-6</text>
<line x1="83.0" y1="356.8" x2="83.0" y2="359.0" stroke="#555" stroke-width="0.9"/>
<text x="83.0" y="368.2" font-size="10.4" text-anchor="middle" fill="#222" stroke="#222">-4</text>
<line x1="101.9" y1="356.8" x2="101.9" y2="359.0" stroke="#555" stroke-width="0.9"/>
<text x="101.9" y="368.2" font-size="10.4" text-anchor="middle" fill="#222" stroke="#222">-2</text>
<line x1="120.4" y1="356.8" x2="120.4" y2="359.0" stroke="#555" stroke-width="0.9"/>
<text x="120.4" y="368.2" font-size="10.4" text-anchor="middle" fill="#222" stroke="#222">0</text>
<line x1="138.9" y1="356.8" x2="138.9" y2="359.0" stroke="#555" stroke-width="0.9"/>
<text x="138.9" y="368.2" font-size="10.4" text-anchor="middle" fill="#222" stroke="#222">2</text>
<line x1="157.3" y1="356.8" x2="157.3" y2="359.0" stroke="#555" stroke-width="0.9"/>
<text x="157.3" y="368.2" font-size="10.4" text-anchor="middle" fill="#222" stroke="#222">4</text>
<text x="110.8" y="384.0" font-size="10.4" text-anchor="middle" fill="#222" stroke="#222">PC2 (24.57%)</text>
<text x="36.2" y="305.5" font-size="10.4" text-anchor="middle" fill="#222" stroke="#222" transform="rotate(-90 36.2 305.5)">PC1 (20.51%)</text>
<circle cx="65.8" cy="264.4" r="2.05" fill="#A9CDE6"/>
<text x="69.4" y="268.1" font-size="10.4" fill="#222" stroke="#222">NOR</text>
<circle cx="65.8" cy="274.2" r="2.05" fill="#F6D873"/>
<text x="69.4" y="277.9" font-size="10.4" fill="#222" stroke="#222">HYP</text>
<circle cx="65.8" cy="284.4" r="2.05" fill="#DFA050"/>
<text x="69.4" y="288.1" font-size="10.4" fill="#222" stroke="#222">DYS</text>
<circle cx="65.8" cy="294.2" r="2.05" fill="#B81A1A"/>
<text x="69.4" y="297.9" font-size="10.4" fill="#222" stroke="#222">CIS</text>
<circle cx="65.8" cy="304.2" r="2.05" fill="#6E0A0A"/>
<text x="69.4" y="307.9" font-size="10.4" fill="#222" stroke="#222">ICA</text>
</g>
<g id="panelC">
<text x="0" y="0" font-size="16.8" font-weight="bold" fill="#000" stroke="#000" transform="translate(185.3 249.5) scale(0.92 1)">C</text>
<line x1="252.6" y1="334.2" x2="252.6" y2="336.3" stroke="#C4D2D8" stroke-width="0.7" stroke-opacity="0.75" stroke-dasharray="1.6 1.4"/>
<line x1="250.0" y1="334.2" x2="255.2" y2="334.2" stroke="#C4D2D8" stroke-width="0.7"/>
<line x1="252.6" y1="344.8" x2="252.6" y2="350.5" stroke="#C4D2D8" stroke-width="0.7" stroke-opacity="0.75" stroke-dasharray="1.6 1.4"/>
<line x1="250.0" y1="350.5" x2="255.2" y2="350.5" stroke="#C4D2D8" stroke-width="0.7"/>
<rect x="244.7" y="336.3" width="15.8" height="8.5" fill="#fff" fill-opacity="0.55" stroke="#CDCFCB" stroke-width="0.9"/>
<line x1="244.7" y1="338.9" x2="260.5" y2="338.9" stroke="#B0B4A6" stroke-width="1.05"/>
<circle cx="252.6" cy="334.2" r="1.3" fill="#C2CCD0"/>
<circle cx="252.6" cy="350.5" r="1.3" fill="#C2CCD0"/>
<line x1="271.1" y1="299.7" x2="271.1" y2="312.4" stroke="#F0D878" stroke-width="0.7" stroke-opacity="0.75" stroke-dasharray="1.6 1.4"/>
<line x1="268.5" y1="299.7" x2="273.7" y2="299.7" stroke="#F0D878" stroke-width="0.7"/>
<line x1="271.1" y1="322.3" x2="271.1" y2="329.8" stroke="#F0D878" stroke-width="0.7" stroke-opacity="0.75" stroke-dasharray="1.6 1.4"/>
<line x1="268.5" y1="329.8" x2="273.7" y2="329.8" stroke="#F0D878" stroke-width="0.7"/>
<rect x="263.2" y="312.4" width="15.8" height="9.9" fill="#fff" fill-opacity="0.55" stroke="#DCDCB8" stroke-width="0.9"/>
<line x1="263.2" y1="315.2" x2="279.0" y2="315.2" stroke="#DDB448" stroke-width="1.05"/>
<circle cx="271.1" cy="299.7" r="1.3" fill="#F4DA78"/>
<circle cx="271.1" cy="312.4" r="1.3" fill="#F4DA78"/>
<circle cx="271.1" cy="315.6" r="1.3" fill="#F4DA78"/>
<circle cx="271.1" cy="320.0" r="1.3" fill="#F4DA78"/>
<circle cx="271.1" cy="323.0" r="1.3" fill="#F4DA78"/>
<circle cx="271.1" cy="329.8" r="1.3" fill="#F4DA78"/>
<line x1="289.9" y1="310.9" x2="289.9" y2="316.6" stroke="#EBA860" stroke-width="0.7" stroke-opacity="0.75" stroke-dasharray="1.6 1.4"/>
<line x1="287.3" y1="310.9" x2="292.5" y2="310.9" stroke="#EBA860" stroke-width="0.7"/>
<line x1="289.9" y1="327.6" x2="289.9" y2="334.6" stroke="#EBA860" stroke-width="0.7" stroke-opacity="0.75" stroke-dasharray="1.6 1.4"/>
<line x1="287.3" y1="334.6" x2="292.5" y2="334.6" stroke="#EBA860" stroke-width="0.7"/>
<rect x="282.0" y="316.6" width="15.8" height="11.0" fill="#fff" fill-opacity="0.55" stroke="#DDD0B8" stroke-width="0.9"/>
<line x1="282.0" y1="324.5" x2="297.8" y2="324.5" stroke="#CB8A36" stroke-width="1.05"/>
<circle cx="289.9" cy="311.3" r="1.3" fill="#E2943A"/>
<circle cx="292.1" cy="310.7" r="1.3" fill="#E2943A"/>
<circle cx="289.9" cy="323.0" r="1.3" fill="#E2943A"/>
<circle cx="289.9" cy="325.2" r="1.3" fill="#E2943A"/>
<circle cx="289.9" cy="330.0" r="1.3" fill="#E2943A"/>
<circle cx="289.9" cy="334.6" r="1.3" fill="#E2943A"/>
<line x1="308.4" y1="289.6" x2="308.4" y2="296.5" stroke="#E07060" stroke-width="0.7" stroke-opacity="0.75" stroke-dasharray="1.6 1.4"/>
<line x1="305.8" y1="289.6" x2="311.0" y2="289.6" stroke="#E07060" stroke-width="0.7"/>
<line x1="308.4" y1="314.1" x2="308.4" y2="323.6" stroke="#E07060" stroke-width="0.7" stroke-opacity="0.75" stroke-dasharray="1.6 1.4"/>
<line x1="305.8" y1="323.6" x2="311.0" y2="323.6" stroke="#E07060" stroke-width="0.7"/>
<rect x="300.5" y="296.5" width="15.8" height="17.6" fill="#fff" fill-opacity="0.55" stroke="#DEC4BC" stroke-width="0.9"/>
<line x1="300.5" y1="300.8" x2="316.3" y2="300.8" stroke="#A09060" stroke-width="1.05"/>
<circle cx="308.4" cy="289.6" r="1.3" fill="#A01010"/>
<circle cx="308.4" cy="296.5" r="1.3" fill="#A01010"/>
<circle cx="308.0" cy="301.4" r="1.3" fill="#A01010"/>
<circle cx="310.1" cy="300.3" r="1.3" fill="#A01010"/>
<circle cx="308.4" cy="314.1" r="1.3" fill="#A01010"/>
<circle cx="308.4" cy="323.6" r="1.3" fill="#A01010"/>
<line x1="327.0" y1="306.1" x2="327.0" y2="313.5" stroke="#C07060" stroke-width="0.7" stroke-opacity="0.75" stroke-dasharray="1.6 1.4"/>
<line x1="324.4" y1="313.5" x2="329.6" y2="313.5" stroke="#C07060" stroke-width="0.7"/>
<rect x="319.1" y="299.1" width="15.8" height="7.0" fill="#fff" fill-opacity="0.55" stroke="#D8C6B4" stroke-width="0.9"/>
<line x1="319.1" y1="302.3" x2="334.9" y2="302.3" stroke="#A09060" stroke-width="1.05"/>
<circle cx="327.0" cy="285.5" r="1.3" fill="#2A0606"/>
<circle cx="329.1" cy="299.1" r="1.3" fill="#2A0606"/>
<circle cx="327.4" cy="300.8" r="1.3" fill="#2A0606"/>
<circle cx="327.0" cy="302.9" r="1.3" fill="#2A0606"/>
<circle cx="327.0" cy="306.1" r="1.3" fill="#2A0606"/>
<circle cx="327.0" cy="313.5" r="1.3" fill="#2A0606"/>
<line x1="253.0" y1="261.6" x2="326.4" y2="261.6" stroke="#484848" stroke-width="1.45"/>
<text x="289.6" y="262.6" font-size="8.5" text-anchor="middle" font-weight="bold" fill="#222" stroke="#222" letter-spacing="0.7">*</text>
<line x1="253.0" y1="266.6" x2="308.0" y2="266.6" stroke="#484848" stroke-width="1.45"/>
<text x="280.1" y="267.6" font-size="8.5" text-anchor="middle" font-weight="bold" fill="#222" stroke="#222" letter-spacing="0.7">*</text>
<line x1="253.0" y1="271.6" x2="289.0" y2="271.6" stroke="#484848" stroke-width="1.45"/>
<text x="271.0" y="272.6" font-size="8.5" text-anchor="middle" font-weight="bold" fill="#222" stroke="#222" letter-spacing="0.7">*</text>
<line x1="290.4" y1="271.6" x2="326.4" y2="271.6" stroke="#484848" stroke-width="1.45"/>
<text x="309.2" y="272.6" font-size="8.5" text-anchor="middle" font-weight="bold" fill="#222" stroke="#222" letter-spacing="0.7">**</text>
<line x1="253.0" y1="276.7" x2="270.3" y2="276.7" stroke="#484848" stroke-width="1.45"/>
<text x="261.9" y="277.7" font-size="8.5" text-anchor="middle" font-weight="bold" fill="#222" stroke="#222" letter-spacing="0.7">*</text>
<line x1="290.4" y1="276.7" x2="308.0" y2="276.7" stroke="#484848" stroke-width="1.45"/>
<text x="299.5" y="277.7" font-size="8.5" text-anchor="middle" font-weight="bold" fill="#222" stroke="#222" letter-spacing="0.7">*</text>
<rect x="238.8" y="255.8" width="101.6" height="102.0" fill="none" stroke="#666" stroke-width="0.9"/>
<line x1="236.8" y1="266.6" x2="238.8" y2="266.6" stroke="#8a8a8a" stroke-width="0.8"/>
<text x="235.9" y="270.3" font-size="10.4" text-anchor="end" fill="#222" stroke="#222">0.25</text>
<line x1="236.8" y1="290.5" x2="238.8" y2="290.5" stroke="#8a8a8a" stroke-width="0.8"/>
<text x="235.9" y="294.2" font-size="10.4" text-anchor="end" fill="#222" stroke="#222">0.20</text>
<line x1="236.8" y1="314.4" x2="238.8" y2="314.4" stroke="#8a8a8a" stroke-width="0.8"/>
<text x="235.9" y="318.1" font-size="10.4" text-anchor="end" fill="#222" stroke="#222">0.15</text>
<line x1="236.8" y1="338.4" x2="238.8" y2="338.4" stroke="#8a8a8a" stroke-width="0.8"/>
<text x="235.9" y="342.1" font-size="10.4" text-anchor="end" fill="#222" stroke="#222">0.10</text>
<line x1="252.6" y1="357.8" x2="252.6" y2="359.8" stroke="#999" stroke-width="0.7"/>
<line x1="271.1" y1="357.8" x2="271.1" y2="359.8" stroke="#999" stroke-width="0.7"/>
<line x1="289.9" y1="357.8" x2="289.9" y2="359.8" stroke="#999" stroke-width="0.7"/>
<line x1="308.4" y1="357.8" x2="308.4" y2="359.8" stroke="#999" stroke-width="0.7"/>
<line x1="327.0" y1="357.8" x2="327.0" y2="359.8" stroke="#999" stroke-width="0.7"/>
<text x="256.3" y="362.4" font-size="10.4" text-anchor="end" fill="#222" stroke="#222" transform="rotate(-90 256.3 362.4)">NOR</text>
<text x="274.8" y="362.4" font-size="10.4" text-anchor="end" fill="#222" stroke="#222" transform="rotate(-90 274.8 362.4)">HYP</text>
<text x="293.6" y="362.4" font-size="10.4" text-anchor="end" fill="#222" stroke="#222" transform="rotate(-90 293.6 362.4)">DYS</text>
<text x="312.1" y="362.4" font-size="10.4" text-anchor="end" fill="#222" stroke="#222" transform="rotate(-90 312.1 362.4)">CIS</text>
<text x="330.7" y="362.4" font-size="10.4" text-anchor="end" fill="#222" stroke="#222" transform="rotate(-90 330.7 362.4)">ICA</text>
<text x="205.8" y="306.8" font-size="10.4" text-anchor="middle" fill="#222" stroke="#222" transform="rotate(-90 205.8 306.8)">TILs (CIBERSORTx)</text>
<line x1="413.0" y1="333.1" x2="413.0" y2="334.6" stroke="#C4D2D8" stroke-width="0.7" stroke-opacity="0.75" stroke-dasharray="1.6 1.4"/>
<line x1="410.4" y1="333.1" x2="415.6" y2="333.1" stroke="#C4D2D8" stroke-width="0.7"/>
<line x1="413.0" y1="344.6" x2="413.0" y2="349.4" stroke="#C4D2D8" stroke-width="0.7" stroke-opacity="0.75" stroke-dasharray="1.6 1.4"/>
<line x1="410.4" y1="349.4" x2="415.6" y2="349.4" stroke="#C4D2D8" stroke-width="0.7"/>
<rect x="405.1" y="334.6" width="15.8" height="10.0" fill="#fff" fill-opacity="0.55" stroke="#CDCFCB" stroke-width="0.9"/>
<line x1="405.1" y1="337.8" x2="420.9" y2="337.8" stroke="#B0B4A6" stroke-width="1.05"/>
<circle cx="413.0" cy="333.1" r="1.3" fill="#C2CCD0"/>
<circle cx="413.0" cy="349.4" r="1.3" fill="#C2CCD0"/>
<line x1="431.4" y1="306.0" x2="431.4" y2="308.2" stroke="#F0D878" stroke-width="0.7" stroke-opacity="0.75" stroke-dasharray="1.6 1.4"/>
<line x1="428.8" y1="306.0" x2="434.0" y2="306.0" stroke="#F0D878" stroke-width="0.7"/>
<line x1="431.4" y1="315.6" x2="431.4" y2="319.4" stroke="#F0D878" stroke-width="0.7" stroke-opacity="0.75" stroke-dasharray="1.6 1.4"/>
<line x1="428.8" y1="319.4" x2="434.0" y2="319.4" stroke="#F0D878" stroke-width="0.7"/>
<rect x="423.5" y="308.2" width="15.8" height="7.4" fill="#fff" fill-opacity="0.55" stroke="#DCDCB8" stroke-width="0.9"/>
<line x1="423.5" y1="311.8" x2="439.3" y2="311.8" stroke="#DDB448" stroke-width="1.05"/>
<circle cx="431.4" cy="294.8" r="1.3" fill="#F4DA78"/>
<circle cx="431.4" cy="306.5" r="1.3" fill="#F4DA78"/>
<circle cx="431.4" cy="309.0" r="1.3" fill="#F4DA78"/>
<circle cx="431.4" cy="311.0" r="1.3" fill="#F4DA78"/>
<circle cx="431.4" cy="313.5" r="1.3" fill="#F4DA78"/>
<circle cx="431.4" cy="316.0" r="1.3" fill="#F4DA78"/>
<circle cx="431.4" cy="319.0" r="1.3" fill="#F4DA78"/>
<line x1="450.4" y1="299.7" x2="450.4" y2="311.3" stroke="#EBA860" stroke-width="0.7" stroke-opacity="0.75" stroke-dasharray="1.6 1.4"/>
<line x1="447.8" y1="299.7" x2="453.0" y2="299.7" stroke="#EBA860" stroke-width="0.7"/>
<line x1="450.4" y1="320.9" x2="450.4" y2="331.0" stroke="#EBA860" stroke-width="0.7" stroke-opacity="0.75" stroke-dasharray="1.6 1.4"/>
<line x1="447.8" y1="331.0" x2="453.0" y2="331.0" stroke="#EBA860" stroke-width="0.7"/>
<rect x="442.5" y="311.3" width="15.8" height="9.6" fill="#fff" fill-opacity="0.55" stroke="#DDD0B8" stroke-width="0.9"/>
<line x1="442.5" y1="320.2" x2="458.3" y2="320.2" stroke="#CB8A36" stroke-width="1.05"/>
<circle cx="450.4" cy="299.7" r="1.3" fill="#E2943A"/>
<circle cx="450.4" cy="308.2" r="1.3" fill="#E2943A"/>
<circle cx="450.4" cy="313.5" r="1.3" fill="#E2943A"/>
<circle cx="448.9" cy="320.9" r="1.3" fill="#E2943A"/>
<circle cx="452.1" cy="321.3" r="1.3" fill="#E2943A"/>
<circle cx="450.4" cy="323.0" r="1.3" fill="#E2943A"/>
<circle cx="450.4" cy="331.0" r="1.3" fill="#E2943A"/>
<line x1="469.0" y1="284.9" x2="469.0" y2="294.4" stroke="#E07060" stroke-width="0.7" stroke-opacity="0.75" stroke-dasharray="1.6 1.4"/>
<line x1="466.4" y1="284.9" x2="471.6" y2="284.9" stroke="#E07060" stroke-width="0.7"/>
<line x1="469.0" y1="313.5" x2="469.0" y2="314.9" stroke="#E07060" stroke-width="0.7" stroke-opacity="0.75" stroke-dasharray="1.6 1.4"/>
<line x1="466.4" y1="314.9" x2="471.6" y2="314.9" stroke="#E07060" stroke-width="0.7"/>
<rect x="461.1" y="294.4" width="15.8" height="19.1" fill="#fff" fill-opacity="0.55" stroke="#DEC4BC" stroke-width="0.9"/>
<line x1="461.1" y1="305.4" x2="476.9" y2="305.4" stroke="#A09060" stroke-width="1.05"/>
<circle cx="469.0" cy="284.9" r="1.3" fill="#A01010"/>
<circle cx="469.0" cy="294.4" r="1.3" fill="#A01010"/>
<circle cx="469.0" cy="301.8" r="1.3" fill="#A01010"/>
<circle cx="469.0" cy="309.2" r="1.3" fill="#A01010"/>
<circle cx="468.0" cy="314.9" r="1.3" fill="#A01010"/>
<circle cx="470.7" cy="313.5" r="1.3" fill="#A01010"/>
<line x1="487.4" y1="306.1" x2="487.4" y2="307.5" stroke="#C07060" stroke-width="0.7" stroke-opacity="0.75" stroke-dasharray="1.6 1.4"/>
<line x1="484.8" y1="307.5" x2="490.0" y2="307.5" stroke="#C07060" stroke-width="0.7"/>
<rect x="479.5" y="301.4" width="15.8" height="4.7" fill="#fff" fill-opacity="0.55" stroke="#D8C6B4" stroke-width="0.9"/>
<line x1="479.5" y1="302.9" x2="495.3" y2="302.9" stroke="#A09060" stroke-width="1.05"/>
<circle cx="487.4" cy="291.7" r="1.3" fill="#2A0606"/>
<circle cx="485.9" cy="301.8" r="1.3" fill="#2A0606"/>
<circle cx="489.1" cy="301.8" r="1.3" fill="#2A0606"/>
<circle cx="487.4" cy="303.9" r="1.3" fill="#2A0606"/>
<circle cx="489.1" cy="306.1" r="1.3" fill="#2A0606"/>
<circle cx="487.4" cy="307.5" r="1.3" fill="#2A0606"/>
<line x1="413.6" y1="261.0" x2="487.0" y2="261.0" stroke="#484848" stroke-width="1.45"/>
<text x="450.4" y="262.0" font-size="8.5" text-anchor="middle" font-weight="bold" fill="#222" stroke="#222" letter-spacing="0.7">*</text>
<line x1="413.6" y1="266.1" x2="468.4" y2="266.1" stroke="#484848" stroke-width="1.45"/>
<text x="440.5" y="267.1" font-size="8.5" text-anchor="middle" font-weight="bold" fill="#222" stroke="#222" letter-spacing="0.7">*</text>
<line x1="413.6" y1="271.2" x2="449.6" y2="271.2" stroke="#484848" stroke-width="1.45"/>
<text x="431.4" y="272.2" font-size="8.5" text-anchor="middle" font-weight="bold" fill="#222" stroke="#222" letter-spacing="0.7">*</text>
<line x1="451.0" y1="271.2" x2="487.0" y2="271.2" stroke="#484848" stroke-width="1.45"/>
<text x="469.0" y="272.2" font-size="8.5" text-anchor="middle" font-weight="bold" fill="#222" stroke="#222" letter-spacing="0.7">*</text>
<line x1="413.6" y1="276.4" x2="430.5" y2="276.4" stroke="#484848" stroke-width="1.45"/>
<text x="421.9" y="277.4" font-size="8.5" text-anchor="middle" font-weight="bold" fill="#222" stroke="#222" letter-spacing="0.7">*</text>
<line x1="432.0" y1="276.4" x2="468.4" y2="276.4" stroke="#484848" stroke-width="1.45"/>
<text x="450.4" y="277.4" font-size="8.5" text-anchor="middle" font-weight="bold" fill="#222" stroke="#222" letter-spacing="0.7">*</text>
<rect x="399.6" y="255.4" width="100.8" height="102.4" fill="none" stroke="#666" stroke-width="0.9"/>
<line x1="397.6" y1="265.2" x2="399.6" y2="265.2" stroke="#8a8a8a" stroke-width="0.8"/>
<text x="396.7" y="268.9" font-size="10.4" text-anchor="end" fill="#222" stroke="#222">4.0</text>
<line x1="397.6" y1="282.0" x2="399.6" y2="282.0" stroke="#8a8a8a" stroke-width="0.8"/>
<text x="396.7" y="285.7" font-size="10.4" text-anchor="end" fill="#222" stroke="#222">3.5</text>
<line x1="397.6" y1="298.9" x2="399.6" y2="298.9" stroke="#8a8a8a" stroke-width="0.8"/>
<text x="396.7" y="302.6" font-size="10.4" text-anchor="end" fill="#222" stroke="#222">3.0</text>
<line x1="397.6" y1="315.7" x2="399.6" y2="315.7" stroke="#8a8a8a" stroke-width="0.8"/>
<text x="396.7" y="319.4" font-size="10.4" text-anchor="end" fill="#222" stroke="#222">2.5</text>
<line x1="397.6" y1="332.5" x2="399.6" y2="332.5" stroke="#8a8a8a" stroke-width="0.8"/>
<text x="396.7" y="336.2" font-size="10.4" text-anchor="end" fill="#222" stroke="#222">2.0</text>
<line x1="397.6" y1="349.3" x2="399.6" y2="349.3" stroke="#8a8a8a" stroke-width="0.8"/>
<text x="396.7" y="353.0" font-size="10.4" text-anchor="end" fill="#222" stroke="#222">1.5</text>
<line x1="413.0" y1="357.8" x2="413.0" y2="359.8" stroke="#999" stroke-width="0.7"/>
<line x1="431.4" y1="357.8" x2="431.4" y2="359.8" stroke="#999" stroke-width="0.7"/>
<line x1="450.4" y1="357.8" x2="450.4" y2="359.8" stroke="#999" stroke-width="0.7"/>
<line x1="469.0" y1="357.8" x2="469.0" y2="359.8" stroke="#999" stroke-width="0.7"/>
<line x1="487.4" y1="357.8" x2="487.4" y2="359.8" stroke="#999" stroke-width="0.7"/>
<text x="416.7" y="362.4" font-size="10.4" text-anchor="end" fill="#222" stroke="#222" transform="rotate(-90 416.7 362.4)">NOR</text>
<text x="435.1" y="362.4" font-size="10.4" text-anchor="end" fill="#222" stroke="#222" transform="rotate(-90 435.1 362.4)">HYP</text>
<text x="454.1" y="362.4" font-size="10.4" text-anchor="end" fill="#222" stroke="#222" transform="rotate(-90 454.1 362.4)">DYS</text>
<text x="472.7" y="362.4" font-size="10.4" text-anchor="end" fill="#222" stroke="#222" transform="rotate(-90 472.7 362.4)">CIS</text>
<text x="491.1" y="362.4" font-size="10.4" text-anchor="end" fill="#222" stroke="#222" transform="rotate(-90 491.1 362.4)">ICA</text>
<text x="373.6" y="306.6" font-size="10.4" text-anchor="middle" fill="#222" stroke="#222" transform="rotate(-90 373.6 306.6)">Expression of CD45</text>
</g>
<g id="panelD">
<text x="0" y="0" font-size="16.8" font-weight="bold" fill="#000" stroke="#000" transform="translate(1.2 416.8) scale(0.92 1)">D</text>
<rect x="81.30" y="411.25" width="137.00" height="6.70" fill="#2F8FBC"/>
<text x="0" y="0" font-size="10" fill="#222" stroke="#222" text-anchor="end" transform="translate(77.8 418.0) scale(0.885 1)">Plasma cells</text>
<rect x="81.30" y="420.93" width="94.10" height="6.70" fill="#2F8FBC"/>
<text x="0" y="0" font-size="10" fill="#222" stroke="#222" text-anchor="end" transform="translate(77.8 427.7) scale(0.885 1)">DC</text>
<rect x="81.30" y="430.60" width="71.00" height="6.70" fill="#2F8FBC"/>
<text x="0" y="0" font-size="10" fill="#222" stroke="#222" text-anchor="end" transform="translate(77.8 437.4) scale(0.885 1)">Macrophage M1</text>
<rect x="81.30" y="440.27" width="63.20" height="6.70" fill="#2F8FBC"/>
<text x="0" y="0" font-size="10" fill="#222" stroke="#222" text-anchor="end" transform="translate(77.8 447.0) scale(0.885 1)">Eosinophil</text>
<rect x="81.30" y="449.95" width="54.40" height="6.70" fill="#2F8FBC"/>
<text x="0" y="0" font-size="10" fill="#222" stroke="#222" text-anchor="end" transform="translate(77.8 456.7) scale(0.885 1)">Macrophage M0</text>
<rect x="81.30" y="459.62" width="44.20" height="6.70" fill="#2F8FBC"/>
<text x="0" y="0" font-size="10" fill="#222" stroke="#222" text-anchor="end" transform="translate(77.8 466.4) scale(0.885 1)">Monocyte</text>
<rect x="81.30" y="469.30" width="38.70" height="6.70" fill="#2F8FBC"/>
<text x="0" y="0" font-size="10" fill="#222" stroke="#222" text-anchor="end" transform="translate(77.8 476.1) scale(0.885 1)">Th17</text>
<rect x="81.30" y="478.98" width="36.40" height="6.70" fill="#2F8FBC"/>
<text x="0" y="0" font-size="10" fill="#222" stroke="#222" text-anchor="end" transform="translate(77.8 485.7) scale(0.885 1)">CD4 T cells</text>
<rect x="81.30" y="488.65" width="31.70" height="6.70" fill="#2F8FBC"/>
<text x="0" y="0" font-size="10" fill="#222" stroke="#222" text-anchor="end" transform="translate(77.8 495.4) scale(0.885 1)">CD8 T cells</text>
<rect x="81.30" y="498.32" width="18.90" height="6.70" fill="#2F8FBC"/>
<text x="0" y="0" font-size="10" fill="#222" stroke="#222" text-anchor="end" transform="translate(77.8 505.1) scale(0.885 1)">Tfh</text>
<rect x="81.30" y="508.00" width="17.90" height="6.70" fill="#2F8FBC"/>
<text x="0" y="0" font-size="10" fill="#222" stroke="#222" text-anchor="end" transform="translate(77.8 514.8) scale(0.885 1)">Mast cells</text>
<rect x="81.30" y="517.68" width="17.50" height="6.70" fill="#2F8FBC"/>
<text x="0" y="0" font-size="10" fill="#222" stroke="#222" text-anchor="end" transform="translate(77.8 524.4) scale(0.885 1)">Tgd</text>
<rect x="81.30" y="527.35" width="14.20" height="6.70" fill="#2F8FBC"/>
<text x="0" y="0" font-size="10" fill="#222" stroke="#222" text-anchor="end" transform="translate(77.8 534.1) scale(0.885 1)">Th1</text>
<rect x="81.30" y="537.02" width="13.30" height="6.70" fill="#2F8FBC"/>
<text x="0" y="0" font-size="10" fill="#222" stroke="#222" text-anchor="end" transform="translate(77.8 543.8) scale(0.885 1)">Th2</text>
<rect x="81.30" y="546.70" width="10.10" height="6.70" fill="#2F8FBC"/>
<text x="0" y="0" font-size="10" fill="#222" stroke="#222" text-anchor="end" transform="translate(77.8 553.5) scale(0.885 1)">Macrophage M2</text>
<rect x="81.30" y="556.38" width="8.20" height="6.70" fill="#2F8FBC"/>
<text x="0" y="0" font-size="10" fill="#222" stroke="#222" text-anchor="end" transform="translate(77.8 563.1) scale(0.885 1)">NK</text>
<rect x="81.30" y="566.05" width="7.30" height="6.70" fill="#2F8FBC"/>
<text x="0" y="0" font-size="10" fill="#222" stroke="#222" text-anchor="end" transform="translate(77.8 572.8) scale(0.885 1)">Treg</text>
<rect x="81.30" y="575.73" width="6.40" height="6.70" fill="#2F8FBC"/>
<text x="0" y="0" font-size="10" fill="#222" stroke="#222" text-anchor="end" transform="translate(77.8 582.5) scale(0.885 1)">Neutrophil</text>
<rect x="81.30" y="585.40" width="5.90" height="6.70" fill="#2F8FBC"/>
<text x="0" y="0" font-size="10" fill="#222" stroke="#222" text-anchor="end" transform="translate(77.8 592.1) scale(0.885 1)">B cells</text>
<line x1="102.4" y1="407.2" x2="102.4" y2="599" stroke="#C2504A" stroke-width="0.85" stroke-dasharray="6.2 3.62"/>
<line x1="81.0" y1="599.6" x2="212.8" y2="599.6" stroke="#444" stroke-width="1.0"/>
<line x1="81.5" y1="599.6" x2="81.5" y2="602.4" stroke="#444" stroke-width="1.0"/>
<text x="0" y="0" font-size="10" fill="#222" stroke="#222" text-anchor="middle" transform="translate(81.5 611.0) scale(0.885 1)">0</text>
<line x1="114.2" y1="599.6" x2="114.2" y2="602.4" stroke="#444" stroke-width="1.0"/>
<text x="0" y="0" font-size="10" fill="#222" stroke="#222" text-anchor="middle" transform="translate(114.2 611.0) scale(0.885 1)">2</text>
<line x1="146.9" y1="599.6" x2="146.9" y2="602.4" stroke="#444" stroke-width="1.0"/>
<text x="0" y="0" font-size="10" fill="#222" stroke="#222" text-anchor="middle" transform="translate(146.9 611.0) scale(0.885 1)">4</text>
<line x1="179.6" y1="599.6" x2="179.6" y2="602.4" stroke="#444" stroke-width="1.0"/>
<text x="0" y="0" font-size="10" fill="#222" stroke="#222" text-anchor="middle" transform="translate(179.6 611.0) scale(0.885 1)">6</text>
<line x1="212.3" y1="599.6" x2="212.3" y2="602.4" stroke="#444" stroke-width="1.0"/>
<text x="0" y="0" font-size="10" fill="#222" stroke="#222" text-anchor="middle" transform="translate(212.3 611.0) scale(0.885 1)">8</text>
<text x="0" y="0" font-size="10" fill="#222" stroke="#222" text-anchor="middle" transform="translate(145.6 625.6) scale(0.93 1)">–Log<tspan font-size="6.8" dy="1.6">10</tspan><tspan dy="-1.6"> (</tspan><tspan font-style="italic">P</tspan> value) [ANOVA]</text>
</g>
<g id="panelE">
<text x="0" y="0" font-size="16.8" font-weight="bold" fill="#000" stroke="#000" transform="translate(252.3 416.4) scale(0.92 1)">E</text>
<line x1="312.7" y1="460.3" x2="312.7" y2="468.1" stroke="#C4D2D8" stroke-width="0.7" stroke-opacity="0.75" stroke-dasharray="1.6 1.4"/>
<line x1="310.1" y1="460.3" x2="315.3" y2="460.3" stroke="#C4D2D8" stroke-width="0.7"/>
<line x1="312.7" y1="476.2" x2="312.7" y2="477.4" stroke="#C4D2D8" stroke-width="0.7" stroke-opacity="0.75" stroke-dasharray="1.6 1.4"/>
<line x1="310.1" y1="477.4" x2="315.3" y2="477.4" stroke="#C4D2D8" stroke-width="0.7"/>
<rect x="306.6" y="468.1" width="12.2" height="8.1" fill="#fff" fill-opacity="0.55" stroke="#CDCFCB" stroke-width="0.9"/>
<line x1="306.6" y1="475.7" x2="318.8" y2="475.7" stroke="#B0B4A6" stroke-width="1.05"/>
<circle cx="312.7" cy="460.3" r="1.3" fill="#C2CCD0"/>
<circle cx="312.7" cy="477.0" r="1.3" fill="#C2CCD0"/>
<line x1="327.8" y1="506.2" x2="327.8" y2="510.0" stroke="#F0D878" stroke-width="0.7" stroke-opacity="0.75" stroke-dasharray="1.6 1.4"/>
<line x1="325.2" y1="506.2" x2="330.4" y2="506.2" stroke="#F0D878" stroke-width="0.7"/>
<rect x="320.7" y="510.0" width="14.2" height="2.6" fill="#fff" fill-opacity="0.55" stroke="#DCDCB8" stroke-width="0.9"/>
<line x1="320.7" y1="511.8" x2="334.9" y2="511.8" stroke="#DDB448" stroke-width="1.05"/>
<circle cx="327.8" cy="506.2" r="1.3" fill="#F4DA78"/>
<circle cx="324.8" cy="512.0" r="1.3" fill="#F4DA78"/>
<circle cx="327.8" cy="512.3" r="1.3" fill="#F4DA78"/>
<circle cx="330.8" cy="512.0" r="1.3" fill="#F4DA78"/>
<line x1="342.7" y1="504.3" x2="342.7" y2="511.2" stroke="#EBA860" stroke-width="0.7" stroke-opacity="0.75" stroke-dasharray="1.6 1.4"/>
<line x1="340.1" y1="511.2" x2="345.3" y2="511.2" stroke="#EBA860" stroke-width="0.7"/>
<rect x="336.6" y="497.9" width="12.2" height="6.4" fill="#fff" fill-opacity="0.55" stroke="#DDD0B8" stroke-width="0.9"/>
<line x1="336.6" y1="498.7" x2="348.8" y2="498.7" stroke="#CB8A36" stroke-width="1.05"/>
<circle cx="342.7" cy="497.9" r="1.3" fill="#E2943A"/>
<circle cx="346.1" cy="497.9" r="1.3" fill="#E2943A"/>
<circle cx="342.7" cy="502.2" r="1.3" fill="#E2943A"/>
<circle cx="342.7" cy="506.0" r="1.3" fill="#E2943A"/>
<circle cx="342.7" cy="510.9" r="1.3" fill="#E2943A"/>
<line x1="357.7" y1="492.3" x2="357.7" y2="503.6" stroke="#E07060" stroke-width="0.7" stroke-opacity="0.75" stroke-dasharray="1.6 1.4"/>
<line x1="355.1" y1="492.3" x2="360.3" y2="492.3" stroke="#E07060" stroke-width="0.7"/>
<rect x="351.6" y="503.6" width="12.2" height="9.3" fill="#fff" fill-opacity="0.55" stroke="#DEC4BC" stroke-width="0.9"/>
<line x1="351.6" y1="512.6" x2="363.8" y2="512.6" stroke="#A09060" stroke-width="1.05"/>
<circle cx="357.7" cy="492.3" r="1.3" fill="#A01010"/>
<circle cx="357.7" cy="503.6" r="1.3" fill="#A01010"/>
<circle cx="354.8" cy="512.6" r="1.3" fill="#A01010"/>
<circle cx="357.7" cy="512.6" r="1.3" fill="#A01010"/>
<circle cx="360.5" cy="512.6" r="1.3" fill="#A01010"/>
<circle cx="362.5" cy="512.6" r="1.3" fill="#A01010"/>
<rect x="366.7" y="509.1" width="12.2" height="3.8" fill="#fff" fill-opacity="0.55" stroke="#D8C6B4" stroke-width="0.9"/>
<line x1="366.7" y1="510.4" x2="378.9" y2="510.4" stroke="#A09060" stroke-width="1.05"/>
<circle cx="372.8" cy="500.0" r="1.3" fill="#2A0606"/>
<circle cx="370.6" cy="509.1" r="1.3" fill="#2A0606"/>
<circle cx="374.9" cy="509.7" r="1.3" fill="#2A0606"/>
<circle cx="372.8" cy="511.2" r="1.3" fill="#2A0606"/>
<circle cx="371.9" cy="512.9" r="1.3" fill="#2A0606"/>
<circle cx="374.9" cy="512.9" r="1.3" fill="#2A0606"/>
<line x1="313.7" y1="442.5" x2="372.0" y2="442.5" stroke="#484848" stroke-width="1.45"/>
<text x="343.2" y="443.5" font-size="8.5" text-anchor="middle" font-weight="bold" fill="#222" stroke="#222" letter-spacing="0.7">***</text>
<line x1="313.7" y1="447.3" x2="356.4" y2="447.3" stroke="#484848" stroke-width="1.45"/>
<text x="335.6" y="448.3" font-size="8.5" text-anchor="middle" font-weight="bold" fill="#222" stroke="#222" letter-spacing="0.7">***</text>
<line x1="313.7" y1="452.2" x2="342.1" y2="452.2" stroke="#484848" stroke-width="1.45"/>
<text x="328.2" y="453.2" font-size="8.5" text-anchor="middle" font-weight="bold" fill="#222" stroke="#222" letter-spacing="0.7">***</text>
<line x1="343.5" y1="452.2" x2="372.0" y2="452.2" stroke="#484848" stroke-width="1.45"/>
<text x="357.7" y="453.2" font-size="8.5" text-anchor="middle" font-weight="bold" fill="#222" stroke="#222" letter-spacing="0.7">*</text>
<line x1="313.7" y1="457.0" x2="326.7" y2="457.0" stroke="#484848" stroke-width="1.45"/>
<text x="320.5" y="458.0" font-size="8.5" text-anchor="middle" font-weight="bold" fill="#222" stroke="#222" letter-spacing="0.7">***</text>
<line x1="328.2" y1="457.0" x2="342.1" y2="457.0" stroke="#484848" stroke-width="1.45"/>
<text x="335.6" y="458.0" font-size="8.5" text-anchor="middle" font-weight="bold" fill="#222" stroke="#222" letter-spacing="0.7">**</text>
<rect x="302.3" y="436.7" width="79.3" height="81.6" fill="none" stroke="#666" stroke-width="0.9"/>
<line x1="300.3" y1="440.9" x2="302.3" y2="440.9" stroke="#8a8a8a" stroke-width="0.8"/>
<text x="299.4" y="444.6" font-size="10.4" text-anchor="end" fill="#222" stroke="#222">0.020</text>
<line x1="300.3" y1="458.8" x2="302.3" y2="458.8" stroke="#8a8a8a" stroke-width="0.8"/>
<text x="299.4" y="462.5" font-size="10.4" text-anchor="end" fill="#222" stroke="#222">0.015</text>
<line x1="300.3" y1="476.8" x2="302.3" y2="476.8" stroke="#8a8a8a" stroke-width="0.8"/>
<text x="299.4" y="480.5" font-size="10.4" text-anchor="end" fill="#222" stroke="#222">0.010</text>
<line x1="300.3" y1="494.8" x2="302.3" y2="494.8" stroke="#8a8a8a" stroke-width="0.8"/>
<text x="299.4" y="498.5" font-size="10.4" text-anchor="end" fill="#222" stroke="#222">0.005</text>
<line x1="300.3" y1="512.6" x2="302.3" y2="512.6" stroke="#8a8a8a" stroke-width="0.8"/>
<text x="299.4" y="516.3" font-size="10.4" text-anchor="end" fill="#222" stroke="#222">0.000</text>
<text x="341.7" y="431.8" font-size="10.4" text-anchor="middle" fill="#222" stroke="#222">Plasma cells</text>
<text x="264.3" y="478.0" font-size="10.4" text-anchor="middle" fill="#222" stroke="#222" transform="rotate(-90 264.3 478.0)">Abundance</text>
<line x1="448.6" y1="507.1" x2="448.6" y2="507.9" stroke="#C4D2D8" stroke-width="0.7" stroke-opacity="0.75" stroke-dasharray="1.6 1.4"/>
<line x1="446.0" y1="507.1" x2="451.2" y2="507.1" stroke="#C4D2D8" stroke-width="0.7"/>
<line x1="448.6" y1="510.5" x2="448.6" y2="511.9" stroke="#C4D2D8" stroke-width="0.7" stroke-opacity="0.75" stroke-dasharray="1.6 1.4"/>
<line x1="446.0" y1="511.9" x2="451.2" y2="511.9" stroke="#C4D2D8" stroke-width="0.7"/>
<rect x="442.5" y="507.9" width="12.2" height="2.6" fill="#fff" fill-opacity="0.55" stroke="#CDCFCB" stroke-width="0.9"/>
<line x1="442.5" y1="509.1" x2="454.7" y2="509.1" stroke="#B0B4A6" stroke-width="1.05"/>
<circle cx="447.1" cy="508.6" r="1.3" fill="#C2CCD0"/>
<circle cx="450.1" cy="508.6" r="1.3" fill="#C2CCD0"/>
<circle cx="448.6" cy="511.5" r="1.3" fill="#C2CCD0"/>
<line x1="463.6" y1="459.7" x2="463.6" y2="469.0" stroke="#F0D878" stroke-width="0.7" stroke-opacity="0.75" stroke-dasharray="1.6 1.4"/>
<line x1="461.0" y1="459.7" x2="466.2" y2="459.7" stroke="#F0D878" stroke-width="0.7"/>
<line x1="463.6" y1="482.5" x2="463.6" y2="491.3" stroke="#F0D878" stroke-width="0.7" stroke-opacity="0.75" stroke-dasharray="1.6 1.4"/>
<line x1="461.0" y1="491.3" x2="466.2" y2="491.3" stroke="#F0D878" stroke-width="0.7"/>
<rect x="457.5" y="469.0" width="12.2" height="13.5" fill="#fff" fill-opacity="0.55" stroke="#DCDCB8" stroke-width="0.9"/>
<line x1="457.5" y1="475.8" x2="469.7" y2="475.8" stroke="#DDB448" stroke-width="1.05"/>
<circle cx="463.6" cy="459.7" r="1.3" fill="#F4DA78"/>
<circle cx="463.6" cy="469.0" r="1.3" fill="#F4DA78"/>
<circle cx="463.6" cy="473.0" r="1.3" fill="#F4DA78"/>
<circle cx="463.6" cy="476.0" r="1.3" fill="#F4DA78"/>
<circle cx="463.6" cy="480.0" r="1.3" fill="#F4DA78"/>
<circle cx="463.6" cy="485.0" r="1.3" fill="#F4DA78"/>
<circle cx="463.6" cy="491.3" r="1.3" fill="#F4DA78"/>
<line x1="478.5" y1="497.8" x2="478.5" y2="499.5" stroke="#EBA860" stroke-width="0.7" stroke-opacity="0.75" stroke-dasharray="1.6 1.4"/>
<line x1="475.9" y1="497.8" x2="481.1" y2="497.8" stroke="#EBA860" stroke-width="0.7"/>
<line x1="478.5" y1="502.5" x2="478.5" y2="510.5" stroke="#EBA860" stroke-width="0.7" stroke-opacity="0.75" stroke-dasharray="1.6 1.4"/>
<line x1="475.9" y1="510.5" x2="481.1" y2="510.5" stroke="#EBA860" stroke-width="0.7"/>
<rect x="472.4" y="499.5" width="12.2" height="3.0" fill="#fff" fill-opacity="0.55" stroke="#DDD0B8" stroke-width="0.9"/>
<line x1="472.4" y1="501.2" x2="484.6" y2="501.2" stroke="#CB8A36" stroke-width="1.05"/>
<circle cx="478.5" cy="466.0" r="1.3" fill="#E2943A"/>
<circle cx="478.5" cy="497.8" r="1.3" fill="#E2943A"/>
<circle cx="476.5" cy="501.0" r="1.3" fill="#E2943A"/>
<circle cx="480.5" cy="501.5" r="1.3" fill="#E2943A"/>
<circle cx="478.5" cy="510.5" r="1.3" fill="#E2943A"/>
<line x1="493.8" y1="480.8" x2="493.8" y2="493.0" stroke="#E07060" stroke-width="0.7" stroke-opacity="0.75" stroke-dasharray="1.6 1.4"/>
<line x1="491.2" y1="480.8" x2="496.4" y2="480.8" stroke="#E07060" stroke-width="0.7"/>
<rect x="487.7" y="493.0" width="12.2" height="20.0" fill="#fff" fill-opacity="0.55" stroke="#DEC4BC" stroke-width="0.9"/>
<line x1="487.7" y1="512.5" x2="499.9" y2="512.5" stroke="#A09060" stroke-width="1.05"/>
<circle cx="493.8" cy="480.8" r="1.3" fill="#A01010"/>
<circle cx="493.8" cy="493.2" r="1.3" fill="#A01010"/>
<circle cx="490.4" cy="512.5" r="1.3" fill="#A01010"/>
<circle cx="493.3" cy="512.5" r="1.3" fill="#A01010"/>
<circle cx="496.3" cy="512.5" r="1.3" fill="#A01010"/>
<circle cx="498.8" cy="512.5" r="1.3" fill="#A01010"/>
<line x1="508.7" y1="497.4" x2="508.7" y2="500.3" stroke="#C07060" stroke-width="0.7" stroke-opacity="0.75" stroke-dasharray="1.6 1.4"/>
<line x1="506.1" y1="497.4" x2="511.3" y2="497.4" stroke="#C07060" stroke-width="0.7"/>
<rect x="502.6" y="500.3" width="12.2" height="12.7" fill="#fff" fill-opacity="0.55" stroke="#D8C6B4" stroke-width="0.9"/>
<line x1="502.6" y1="512.5" x2="514.8" y2="512.5" stroke="#A09060" stroke-width="1.05"/>
<circle cx="508.7" cy="497.4" r="1.3" fill="#2A0606"/>
<circle cx="508.7" cy="500.0" r="1.3" fill="#2A0606"/>
<circle cx="506.0" cy="512.5" r="1.3" fill="#2A0606"/>
<circle cx="508.7" cy="512.5" r="1.3" fill="#2A0606"/>
<circle cx="511.6" cy="512.5" r="1.3" fill="#2A0606"/>
<circle cx="514.1" cy="512.5" r="1.3" fill="#2A0606"/>
<line x1="464.5" y1="442.4" x2="507.6" y2="442.4" stroke="#484848" stroke-width="1.45"/>
<text x="486.6" y="443.4" font-size="8.5" text-anchor="middle" font-weight="bold" fill="#222" stroke="#222" letter-spacing="0.7">**</text>
<line x1="464.5" y1="447.5" x2="492.6" y2="447.5" stroke="#484848" stroke-width="1.45"/>
<text x="478.9" y="448.5" font-size="8.5" text-anchor="middle" font-weight="bold" fill="#222" stroke="#222" letter-spacing="0.7">**</text>
<line x1="464.5" y1="452.4" x2="477.7" y2="452.4" stroke="#484848" stroke-width="1.45"/>
<text x="471.3" y="453.4" font-size="8.5" text-anchor="middle" font-weight="bold" fill="#222" stroke="#222" letter-spacing="0.7">*</text>
<line x1="449.4" y1="457.2" x2="463.0" y2="457.2" stroke="#484848" stroke-width="1.45"/>
<text x="456.2" y="458.2" font-size="8.5" text-anchor="middle" font-weight="bold" fill="#222" stroke="#222" letter-spacing="0.7">*</text>
<rect x="438.3" y="436.4" width="80.4" height="81.7" fill="none" stroke="#666" stroke-width="0.9"/>
<line x1="436.3" y1="447.5" x2="438.3" y2="447.5" stroke="#8a8a8a" stroke-width="0.8"/>
<text x="435.4" y="451.2" font-size="10.4" text-anchor="end" fill="#222" stroke="#222">0.04</text>
<line x1="436.3" y1="463.7" x2="438.3" y2="463.7" stroke="#8a8a8a" stroke-width="0.8"/>
<text x="435.4" y="467.4" font-size="10.4" text-anchor="end" fill="#222" stroke="#222">0.03</text>
<line x1="436.3" y1="480.0" x2="438.3" y2="480.0" stroke="#8a8a8a" stroke-width="0.8"/>
<text x="435.4" y="483.7" font-size="10.4" text-anchor="end" fill="#222" stroke="#222">0.02</text>
<line x1="436.3" y1="496.2" x2="438.3" y2="496.2" stroke="#8a8a8a" stroke-width="0.8"/>
<text x="435.4" y="499.9" font-size="10.4" text-anchor="end" fill="#222" stroke="#222">0.01</text>
<line x1="436.3" y1="512.4" x2="438.3" y2="512.4" stroke="#8a8a8a" stroke-width="0.8"/>
<text x="435.4" y="516.1" font-size="10.4" text-anchor="end" fill="#222" stroke="#222">0.00</text>
<text x="478.5" y="431.7" font-size="10.4" text-anchor="middle" fill="#222" stroke="#222">Macrophage M1</text>
<text x="406.8" y="478.2" font-size="10.4" text-anchor="middle" fill="#222" stroke="#222" transform="rotate(-90 406.8 478.2)">Abundance</text>
<line x1="312.0" y1="617.8" x2="312.0" y2="618.6" stroke="#C4D2D8" stroke-width="0.7" stroke-opacity="0.75" stroke-dasharray="1.6 1.4"/>
<line x1="309.4" y1="617.8" x2="314.6" y2="617.8" stroke="#C4D2D8" stroke-width="0.7"/>
<line x1="312.0" y1="620.9" x2="312.0" y2="621.5" stroke="#C4D2D8" stroke-width="0.7" stroke-opacity="0.75" stroke-dasharray="1.6 1.4"/>
<line x1="309.4" y1="621.5" x2="314.6" y2="621.5" stroke="#C4D2D8" stroke-width="0.7"/>
<rect x="305.9" y="618.6" width="12.2" height="2.3" fill="#fff" fill-opacity="0.55" stroke="#CDCFCB" stroke-width="0.9"/>
<line x1="305.9" y1="619.8" x2="318.1" y2="619.8" stroke="#B0B4A6" stroke-width="1.05"/>
<circle cx="310.5" cy="619.8" r="1.3" fill="#C2CCD0"/>
<circle cx="313.5" cy="619.8" r="1.3" fill="#C2CCD0"/>
<line x1="327.0" y1="609.6" x2="327.0" y2="610.8" stroke="#F0D878" stroke-width="0.7" stroke-opacity="0.75" stroke-dasharray="1.6 1.4"/>
<line x1="324.4" y1="609.6" x2="329.6" y2="609.6" stroke="#F0D878" stroke-width="0.7"/>
<line x1="327.0" y1="620.3" x2="327.0" y2="621.7" stroke="#F0D878" stroke-width="0.7" stroke-opacity="0.75" stroke-dasharray="1.6 1.4"/>
<line x1="324.4" y1="621.7" x2="329.6" y2="621.7" stroke="#F0D878" stroke-width="0.7"/>
<rect x="320.9" y="610.8" width="12.2" height="9.5" fill="#fff" fill-opacity="0.55" stroke="#DCDCB8" stroke-width="0.9"/>
<line x1="320.9" y1="615.7" x2="333.1" y2="615.7" stroke="#DDB448" stroke-width="1.05"/>
<circle cx="327.0" cy="610.5" r="1.3" fill="#F4DA78"/>
<circle cx="327.0" cy="615.7" r="1.3" fill="#F4DA78"/>
<circle cx="327.0" cy="620.9" r="1.3" fill="#F4DA78"/>
<line x1="342.1" y1="601.8" x2="342.1" y2="607.0" stroke="#EBA860" stroke-width="0.7" stroke-opacity="0.75" stroke-dasharray="1.6 1.4"/>
<line x1="339.5" y1="601.8" x2="344.7" y2="601.8" stroke="#EBA860" stroke-width="0.7"/>
<line x1="342.1" y1="611.3" x2="342.1" y2="613.0" stroke="#EBA860" stroke-width="0.7" stroke-opacity="0.75" stroke-dasharray="1.6 1.4"/>
<line x1="339.5" y1="613.0" x2="344.7" y2="613.0" stroke="#EBA860" stroke-width="0.7"/>
<rect x="336.0" y="607.0" width="12.2" height="4.3" fill="#fff" fill-opacity="0.55" stroke="#DDD0B8" stroke-width="0.9"/>
<line x1="336.0" y1="608.7" x2="348.2" y2="608.7" stroke="#CB8A36" stroke-width="1.05"/>
<circle cx="342.1" cy="601.8" r="1.3" fill="#E2943A"/>
<circle cx="340.4" cy="607.9" r="1.3" fill="#E2943A"/>
<circle cx="344.3" cy="607.9" r="1.3" fill="#E2943A"/>
<circle cx="342.1" cy="609.6" r="1.3" fill="#E2943A"/>
<circle cx="340.9" cy="611.3" r="1.3" fill="#E2943A"/>
<circle cx="344.3" cy="612.2" r="1.3" fill="#E2943A"/>
<line x1="357.0" y1="574.1" x2="357.0" y2="581.1" stroke="#E07060" stroke-width="0.7" stroke-opacity="0.75" stroke-dasharray="1.6 1.4"/>
<line x1="354.4" y1="574.1" x2="359.6" y2="574.1" stroke="#E07060" stroke-width="0.7"/>
<rect x="350.9" y="581.1" width="12.2" height="29.4" fill="#fff" fill-opacity="0.55" stroke="#DEC4BC" stroke-width="0.9"/>
<line x1="350.9" y1="584.2" x2="363.1" y2="584.2" stroke="#A09060" stroke-width="1.05"/>
<circle cx="357.0" cy="574.1" r="1.3" fill="#A01010"/>
<circle cx="357.0" cy="581.4" r="1.3" fill="#A01010"/>
<circle cx="359.9" cy="581.4" r="1.3" fill="#A01010"/>
<circle cx="357.0" cy="587.1" r="1.3" fill="#A01010"/>
<circle cx="357.0" cy="610.5" r="1.3" fill="#A01010"/>
<circle cx="359.9" cy="610.1" r="1.3" fill="#A01010"/>
<line x1="372.0" y1="569.8" x2="372.0" y2="577.1" stroke="#C07060" stroke-width="0.7" stroke-opacity="0.75" stroke-dasharray="1.6 1.4"/>
<line x1="369.4" y1="569.8" x2="374.6" y2="569.8" stroke="#C07060" stroke-width="0.7"/>
<line x1="372.0" y1="596.6" x2="372.0" y2="598.4" stroke="#C07060" stroke-width="0.7" stroke-opacity="0.75" stroke-dasharray="1.6 1.4"/>
<line x1="369.4" y1="598.4" x2="374.6" y2="598.4" stroke="#C07060" stroke-width="0.7"/>
<rect x="365.9" y="577.1" width="12.2" height="19.5" fill="#fff" fill-opacity="0.55" stroke="#D8C6B4" stroke-width="0.9"/>
<line x1="365.9" y1="584.5" x2="378.1" y2="584.5" stroke="#A09060" stroke-width="1.05"/>
<circle cx="372.0" cy="569.8" r="1.3" fill="#2A0606"/>
<circle cx="372.0" cy="577.6" r="1.3" fill="#2A0606"/>
<circle cx="373.7" cy="584.2" r="1.3" fill="#2A0606"/>
<circle cx="372.0" cy="585.4" r="1.3" fill="#2A0606"/>
<circle cx="372.0" cy="596.6" r="1.3" fill="#2A0606"/>
<circle cx="372.0" cy="598.4" r="1.3" fill="#2A0606"/>
<line x1="327.9" y1="550.4" x2="370.8" y2="550.4" stroke="#484848" stroke-width="1.45"/>
<text x="349.6" y="551.4" font-size="8.5" text-anchor="middle" font-weight="bold" fill="#222" stroke="#222" letter-spacing="0.7">***</text>
<line x1="327.9" y1="555.4" x2="355.6" y2="555.4" stroke="#484848" stroke-width="1.45"/>
<text x="342.5" y="556.4" font-size="8.5" text-anchor="middle" font-weight="bold" fill="#222" stroke="#222" letter-spacing="0.7">**</text>
<line x1="327.9" y1="560.3" x2="341.4" y2="560.3" stroke="#484848" stroke-width="1.45"/>
<text x="334.5" y="561.3" font-size="8.5" text-anchor="middle" font-weight="bold" fill="#222" stroke="#222" letter-spacing="0.7">*</text>
<line x1="343.0" y1="560.3" x2="370.8" y2="560.3" stroke="#484848" stroke-width="1.45"/>
<text x="357.2" y="561.3" font-size="8.5" text-anchor="middle" font-weight="bold" fill="#222" stroke="#222" letter-spacing="0.7">**</text>
<line x1="312.3" y1="565.5" x2="370.8" y2="565.5" stroke="#484848" stroke-width="1.45"/>
<text x="342.1" y="566.5" font-size="8.5" text-anchor="middle" font-weight="bold" fill="#222" stroke="#222" letter-spacing="0.7">*</text>
<line x1="312.3" y1="570.7" x2="355.6" y2="570.7" stroke="#484848" stroke-width="1.45"/>
<text x="334.5" y="571.7" font-size="8.5" text-anchor="middle" font-weight="bold" fill="#222" stroke="#222" letter-spacing="0.7">*</text>
<line x1="312.3" y1="575.5" x2="341.4" y2="575.5" stroke="#484848" stroke-width="1.45"/>
<text x="327.0" y="576.5" font-size="8.5" text-anchor="middle" font-weight="bold" fill="#222" stroke="#222" letter-spacing="0.7">*</text>
<rect x="302.0" y="545.9" width="79.6" height="81.9" fill="none" stroke="#666" stroke-width="0.9"/>
<line x1="300.0" y1="564.6" x2="302.0" y2="564.6" stroke="#8a8a8a" stroke-width="0.8"/>
<text x="299.1" y="568.3" font-size="10.4" text-anchor="end" fill="#222" stroke="#222">0.06</text>
<line x1="300.0" y1="584.2" x2="302.0" y2="584.2" stroke="#8a8a8a" stroke-width="0.8"/>
<text x="299.1" y="587.9" font-size="10.4" text-anchor="end" fill="#222" stroke="#222">0.04</text>
<line x1="300.0" y1="603.8" x2="302.0" y2="603.8" stroke="#8a8a8a" stroke-width="0.8"/>
<text x="299.1" y="607.5" font-size="10.4" text-anchor="end" fill="#222" stroke="#222">0.02</text>
<line x1="300.0" y1="623.3" x2="302.0" y2="623.3" stroke="#8a8a8a" stroke-width="0.8"/>
<text x="299.1" y="627.0" font-size="10.4" text-anchor="end" fill="#222" stroke="#222">0.00</text>
<text x="342.0" y="540.7" font-size="10.4" text-anchor="middle" fill="#222" stroke="#222">DC</text>
<text x="264.3" y="587.5" font-size="10.4" text-anchor="middle" fill="#222" stroke="#222" transform="rotate(-90 264.3 587.5)">Abundance</text>
<line x1="448.6" y1="614.6" x2="448.6" y2="618.3" stroke="#C4D2D8" stroke-width="0.7" stroke-opacity="0.75" stroke-dasharray="1.6 1.4"/>
<line x1="446.0" y1="614.6" x2="451.2" y2="614.6" stroke="#C4D2D8" stroke-width="0.7"/>
<rect x="442.5" y="618.3" width="12.2" height="3.9" fill="#fff" fill-opacity="0.55" stroke="#CDCFCB" stroke-width="0.9"/>
<line x1="442.5" y1="621.4" x2="454.7" y2="621.4" stroke="#B0B4A6" stroke-width="1.05"/>
<circle cx="448.6" cy="614.6" r="1.3" fill="#C2CCD0"/>
<line x1="463.6" y1="605.6" x2="463.6" y2="610.0" stroke="#F0D878" stroke-width="0.7" stroke-opacity="0.75" stroke-dasharray="1.6 1.4"/>
<line x1="461.0" y1="605.6" x2="466.2" y2="605.6" stroke="#F0D878" stroke-width="0.7"/>
<rect x="457.5" y="610.0" width="12.2" height="11.9" fill="#fff" fill-opacity="0.55" stroke="#DCDCB8" stroke-width="0.9"/>
<line x1="457.5" y1="616.8" x2="469.7" y2="616.8" stroke="#DDB448" stroke-width="1.05"/>
<circle cx="463.6" cy="605.6" r="1.3" fill="#F4DA78"/>
<circle cx="465.1" cy="613.5" r="1.3" fill="#F4DA78"/>
<circle cx="463.6" cy="621.5" r="1.3" fill="#F4DA78"/>
<circle cx="460.6" cy="621.9" r="1.3" fill="#F4DA78"/>
<circle cx="466.6" cy="621.9" r="1.3" fill="#F4DA78"/>
<rect x="471.2" y="621.4" width="14.6" height="0.8" fill="#fff" fill-opacity="0.55" stroke="#DDD0B8" stroke-width="0.9"/>
<line x1="471.2" y1="621.9" x2="485.8" y2="621.9" stroke="#CB8A36" stroke-width="1.05"/>
<circle cx="478.5" cy="614.6" r="1.3" fill="#E2943A"/>
<circle cx="473.5" cy="621.9" r="1.3" fill="#E2943A"/>
<circle cx="476.0" cy="621.9" r="1.3" fill="#E2943A"/>
<circle cx="478.5" cy="621.9" r="1.3" fill="#E2943A"/>
<circle cx="481.0" cy="621.9" r="1.3" fill="#E2943A"/>
<circle cx="483.5" cy="621.9" r="1.3" fill="#E2943A"/>
<line x1="493.8" y1="607.5" x2="493.8" y2="621.9" stroke="#E07060" stroke-width="0.7" stroke-opacity="0.75" stroke-dasharray="1.6 1.4"/>
<line x1="491.2" y1="621.9" x2="496.4" y2="621.9" stroke="#E07060" stroke-width="0.7"/>
<rect x="487.7" y="569.3" width="12.2" height="38.2" fill="#fff" fill-opacity="0.55" stroke="#DEC4BC" stroke-width="0.9"/>
<line x1="487.7" y1="596.5" x2="499.9" y2="596.5" stroke="#A09060" stroke-width="1.05"/>
<circle cx="493.3" cy="569.8" r="1.3" fill="#A01010"/>
<circle cx="496.4" cy="569.8" r="1.3" fill="#A01010"/>
<circle cx="493.8" cy="591.8" r="1.3" fill="#A01010"/>
<circle cx="493.8" cy="601.6" r="1.3" fill="#A01010"/>
<circle cx="493.8" cy="607.5" r="1.3" fill="#A01010"/>
<circle cx="493.8" cy="621.9" r="1.3" fill="#A01010"/>
<line x1="508.7" y1="602.8" x2="508.7" y2="615.8" stroke="#C07060" stroke-width="0.7" stroke-opacity="0.75" stroke-dasharray="1.6 1.4"/>
<line x1="506.1" y1="615.8" x2="511.3" y2="615.8" stroke="#C07060" stroke-width="0.7"/>
<rect x="502.6" y="577.4" width="12.2" height="25.4" fill="#fff" fill-opacity="0.55" stroke="#D8C6B4" stroke-width="0.9"/>
<line x1="502.6" y1="596.0" x2="514.8" y2="596.0" stroke="#A09060" stroke-width="1.05"/>
<circle cx="508.7" cy="577.7" r="1.3" fill="#2A0606"/>
<circle cx="510.8" cy="577.7" r="1.3" fill="#2A0606"/>
<circle cx="508.7" cy="592.3" r="1.3" fill="#2A0606"/>
<circle cx="508.7" cy="599.4" r="1.3" fill="#2A0606"/>
<circle cx="508.2" cy="601.9" r="1.3" fill="#2A0606"/>
<circle cx="508.7" cy="615.8" r="1.3" fill="#2A0606"/>
<line x1="464.5" y1="551.7" x2="477.7" y2="551.7" stroke="#484848" stroke-width="1.45"/>
<text x="470.6" y="552.7" font-size="8.5" text-anchor="middle" font-weight="bold" fill="#222" stroke="#222" letter-spacing="0.7">*</text>
<line x1="479.4" y1="551.7" x2="492.1" y2="551.7" stroke="#484848" stroke-width="1.45"/>
<text x="486.0" y="552.7" font-size="8.5" text-anchor="middle" font-weight="bold" fill="#222" stroke="#222" letter-spacing="0.7">**</text>
<line x1="494.3" y1="551.7" x2="507.6" y2="551.7" stroke="#484848" stroke-width="1.45"/>
<text x="501.4" y="552.7" font-size="8.5" text-anchor="middle" font-weight="bold" fill="#222" stroke="#222" letter-spacing="0.7">**</text>
<line x1="464.5" y1="556.6" x2="492.1" y2="556.6" stroke="#484848" stroke-width="1.45"/>
<text x="478.0" y="557.6" font-size="8.5" text-anchor="middle" font-weight="bold" fill="#222" stroke="#222" letter-spacing="0.7">*</text>
<line x1="494.3" y1="556.6" x2="507.6" y2="556.6" stroke="#484848" stroke-width="1.45"/>
<text x="501.0" y="557.6" font-size="8.5" text-anchor="middle" font-weight="bold" fill="#222" stroke="#222" letter-spacing="0.7">*</text>
<line x1="449.4" y1="561.6" x2="507.6" y2="561.6" stroke="#484848" stroke-width="1.45"/>
<text x="478.4" y="562.6" font-size="8.5" text-anchor="middle" font-weight="bold" fill="#222" stroke="#222" letter-spacing="0.7">**</text>
<line x1="449.4" y1="566.4" x2="492.6" y2="566.4" stroke="#484848" stroke-width="1.45"/>
<text x="470.6" y="567.4" font-size="8.5" text-anchor="middle" font-weight="bold" fill="#222" stroke="#222" letter-spacing="0.7">*</text>
<rect x="438.3" y="545.6" width="80.3" height="82.2" fill="none" stroke="#666" stroke-width="0.9"/>
<line x1="436.3" y1="553.0" x2="438.3" y2="553.0" stroke="#8a8a8a" stroke-width="0.8"/>
<text x="435.4" y="556.7" font-size="10.4" text-anchor="end" fill="#222" stroke="#222">0.10</text>
<line x1="436.3" y1="566.7" x2="438.3" y2="566.7" stroke="#8a8a8a" stroke-width="0.8"/>
<text x="435.4" y="570.4" font-size="10.4" text-anchor="end" fill="#222" stroke="#222">0.08</text>
<line x1="436.3" y1="580.4" x2="438.3" y2="580.4" stroke="#8a8a8a" stroke-width="0.8"/>
<text x="435.4" y="584.1" font-size="10.4" text-anchor="end" fill="#222" stroke="#222">0.06</text>
<line x1="436.3" y1="594.2" x2="438.3" y2="594.2" stroke="#8a8a8a" stroke-width="0.8"/>
<text x="435.4" y="597.9" font-size="10.4" text-anchor="end" fill="#222" stroke="#222">0.04</text>
<line x1="436.3" y1="607.9" x2="438.3" y2="607.9" stroke="#8a8a8a" stroke-width="0.8"/>
<text x="435.4" y="611.6" font-size="10.4" text-anchor="end" fill="#222" stroke="#222">0.02</text>
<line x1="436.3" y1="621.6" x2="438.3" y2="621.6" stroke="#8a8a8a" stroke-width="0.8"/>
<text x="435.4" y="625.3" font-size="10.4" text-anchor="end" fill="#222" stroke="#222">0.00</text>
<text x="478.0" y="540.5" font-size="10.4" text-anchor="middle" fill="#222" stroke="#222">Macrophage M0</text>
<text x="406.8" y="587.5" font-size="10.4" text-anchor="middle" fill="#222" stroke="#222" transform="rotate(-90 406.8 587.5)">Abundance</text>
<line x1="312.0" y1="689.7" x2="312.0" y2="704.4" stroke="#C4D2D8" stroke-width="0.7" stroke-opacity="0.75" stroke-dasharray="1.6 1.4"/>
<line x1="309.4" y1="689.7" x2="314.6" y2="689.7" stroke="#C4D2D8" stroke-width="0.7"/>
<line x1="312.0" y1="723.6" x2="312.0" y2="726.5" stroke="#C4D2D8" stroke-width="0.7" stroke-opacity="0.75" stroke-dasharray="1.6 1.4"/>
<line x1="309.4" y1="726.5" x2="314.6" y2="726.5" stroke="#C4D2D8" stroke-width="0.7"/>
<rect x="305.9" y="704.4" width="12.2" height="19.2" fill="#fff" fill-opacity="0.55" stroke="#CDCFCB" stroke-width="0.9"/>
<line x1="305.9" y1="720.0" x2="318.1" y2="720.0" stroke="#B0B4A6" stroke-width="1.05"/>
<line x1="327.0" y1="700.2" x2="327.0" y2="706.6" stroke="#F0D878" stroke-width="0.7" stroke-opacity="0.75" stroke-dasharray="1.6 1.4"/>
<line x1="324.4" y1="700.2" x2="329.6" y2="700.2" stroke="#F0D878" stroke-width="0.7"/>
<line x1="327.0" y1="724.3" x2="327.0" y2="729.6" stroke="#F0D878" stroke-width="0.7" stroke-opacity="0.75" stroke-dasharray="1.6 1.4"/>
<line x1="324.4" y1="729.6" x2="329.6" y2="729.6" stroke="#F0D878" stroke-width="0.7"/>
<rect x="320.9" y="706.6" width="12.2" height="17.7" fill="#fff" fill-opacity="0.55" stroke="#DCDCB8" stroke-width="0.9"/>
<line x1="320.9" y1="714.8" x2="333.1" y2="714.8" stroke="#DDB448" stroke-width="1.05"/>
<circle cx="327.0" cy="700.2" r="1.3" fill="#F4DA78"/>
<circle cx="327.0" cy="706.6" r="1.3" fill="#F4DA78"/>
<circle cx="327.0" cy="714.8" r="1.3" fill="#F4DA78"/>
<circle cx="327.0" cy="719.6" r="1.3" fill="#F4DA78"/>
<circle cx="327.0" cy="724.8" r="1.3" fill="#F4DA78"/>
<circle cx="327.0" cy="729.1" r="1.3" fill="#F4DA78"/>
<line x1="342.1" y1="698.0" x2="342.1" y2="712.7" stroke="#EBA860" stroke-width="0.7" stroke-opacity="0.75" stroke-dasharray="1.6 1.4"/>
<line x1="339.5" y1="698.0" x2="344.7" y2="698.0" stroke="#EBA860" stroke-width="0.7"/>
<line x1="342.1" y1="727.7" x2="342.1" y2="730.5" stroke="#EBA860" stroke-width="0.7" stroke-opacity="0.75" stroke-dasharray="1.6 1.4"/>
<line x1="339.5" y1="730.5" x2="344.7" y2="730.5" stroke="#EBA860" stroke-width="0.7"/>
<rect x="336.0" y="712.7" width="12.2" height="15.0" fill="#fff" fill-opacity="0.55" stroke="#DDD0B8" stroke-width="0.9"/>
<line x1="336.0" y1="720.5" x2="348.2" y2="720.5" stroke="#CB8A36" stroke-width="1.05"/>
<circle cx="342.1" cy="698.0" r="1.3" fill="#E2943A"/>
<circle cx="342.1" cy="709.2" r="1.3" fill="#E2943A"/>
<circle cx="342.1" cy="712.7" r="1.3" fill="#E2943A"/>
<circle cx="342.1" cy="720.5" r="1.3" fill="#E2943A"/>
<circle cx="342.1" cy="724.8" r="1.3" fill="#E2943A"/>
<circle cx="341.4" cy="730.5" r="1.3" fill="#E2943A"/>
<circle cx="344.3" cy="730.5" r="1.3" fill="#E2943A"/>
<line x1="357.0" y1="717.0" x2="357.0" y2="722.6" stroke="#E07060" stroke-width="0.7" stroke-opacity="0.75" stroke-dasharray="1.6 1.4"/>
<line x1="354.4" y1="722.6" x2="359.6" y2="722.6" stroke="#E07060" stroke-width="0.7"/>
<rect x="350.9" y="706.1" width="12.2" height="10.9" fill="#fff" fill-opacity="0.55" stroke="#DEC4BC" stroke-width="0.9"/>
<line x1="350.9" y1="709.6" x2="363.1" y2="709.6" stroke="#A09060" stroke-width="1.05"/>
<circle cx="357.0" cy="688.8" r="1.3" fill="#A01010"/>
<circle cx="357.0" cy="707.2" r="1.3" fill="#A01010"/>
<circle cx="358.2" cy="709.2" r="1.3" fill="#A01010"/>
<circle cx="357.0" cy="710.1" r="1.3" fill="#A01010"/>
<circle cx="357.0" cy="716.7" r="1.3" fill="#A01010"/>
<circle cx="357.0" cy="722.6" r="1.3" fill="#A01010"/>
<line x1="372.0" y1="678.4" x2="372.0" y2="680.7" stroke="#C07060" stroke-width="0.7" stroke-opacity="0.75" stroke-dasharray="1.6 1.4"/>
<line x1="369.4" y1="678.4" x2="374.6" y2="678.4" stroke="#C07060" stroke-width="0.7"/>
<line x1="372.0" y1="700.6" x2="372.0" y2="715.8" stroke="#C07060" stroke-width="0.7" stroke-opacity="0.75" stroke-dasharray="1.6 1.4"/>
<line x1="369.4" y1="715.8" x2="374.6" y2="715.8" stroke="#C07060" stroke-width="0.7"/>
<rect x="365.9" y="680.7" width="12.2" height="19.9" fill="#fff" fill-opacity="0.55" stroke="#D8C6B4" stroke-width="0.9"/>
<line x1="365.9" y1="689.0" x2="378.1" y2="689.0" stroke="#A09060" stroke-width="1.05"/>
<circle cx="372.0" cy="678.4" r="1.3" fill="#2A0606"/>
<circle cx="372.0" cy="680.7" r="1.3" fill="#2A0606"/>
<circle cx="372.0" cy="689.0" r="1.3" fill="#2A0606"/>
<circle cx="374.6" cy="689.0" r="1.3" fill="#2A0606"/>
<circle cx="372.0" cy="700.6" r="1.3" fill="#2A0606"/>
<circle cx="372.0" cy="715.8" r="1.3" fill="#2A0606"/>
<line x1="342.6" y1="665.6" x2="372.0" y2="665.6" stroke="#8a8a8a" stroke-width="1.1"/>
<text x="357.3" y="666.2" font-size="6" text-anchor="middle" font-weight="bold" fill="#666" stroke="#666" letter-spacing="0.7">*</text>
<line x1="327.4" y1="671.2" x2="372.0" y2="671.2" stroke="#8a8a8a" stroke-width="1.1"/>
<text x="349.5" y="671.8" font-size="6" text-anchor="middle" font-weight="bold" fill="#666" stroke="#666" letter-spacing="0.7">*</text>
<rect x="302.0" y="654.7" width="79.6" height="81.7" fill="none" stroke="#666" stroke-width="0.9"/>
<line x1="300.0" y1="657.9" x2="302.0" y2="657.9" stroke="#8a8a8a" stroke-width="0.8"/>
<text x="299.1" y="661.6" font-size="10.4" text-anchor="end" fill="#222" stroke="#222">0.020</text>
<line x1="300.0" y1="676.0" x2="302.0" y2="676.0" stroke="#8a8a8a" stroke-width="0.8"/>
<text x="299.1" y="679.7" font-size="10.4" text-anchor="end" fill="#222" stroke="#222">0.015</text>
<line x1="300.0" y1="694.2" x2="302.0" y2="694.2" stroke="#8a8a8a" stroke-width="0.8"/>
<text x="299.1" y="697.9" font-size="10.4" text-anchor="end" fill="#222" stroke="#222">0.010</text>
<line x1="300.0" y1="712.3" x2="302.0" y2="712.3" stroke="#8a8a8a" stroke-width="0.8"/>
<text x="299.1" y="716.0" font-size="10.4" text-anchor="end" fill="#222" stroke="#222">0.005</text>
<line x1="300.0" y1="730.4" x2="302.0" y2="730.4" stroke="#8a8a8a" stroke-width="0.8"/>
<text x="299.1" y="734.1" font-size="10.4" text-anchor="end" fill="#222" stroke="#222">0.000</text>
<text x="343.1" y="649.5" font-size="10.4" text-anchor="middle" fill="#222" stroke="#222">CD8 T cells</text>
<line x1="312.0" y1="736.4" x2="312.0" y2="738.4" stroke="#999" stroke-width="0.7"/>
<line x1="327.0" y1="736.4" x2="327.0" y2="738.4" stroke="#999" stroke-width="0.7"/>
<line x1="342.1" y1="736.4" x2="342.1" y2="738.4" stroke="#999" stroke-width="0.7"/>
<line x1="357.0" y1="736.4" x2="357.0" y2="738.4" stroke="#999" stroke-width="0.7"/>
<line x1="372.0" y1="736.4" x2="372.0" y2="738.4" stroke="#999" stroke-width="0.7"/>
<text x="315.7" y="739.5" font-size="10.4" text-anchor="end" fill="#222" stroke="#222" transform="rotate(-90 315.7 739.5)">NOR</text>
<text x="330.7" y="739.5" font-size="10.4" text-anchor="end" fill="#222" stroke="#222" transform="rotate(-90 330.7 739.5)">HYP</text>
<text x="345.8" y="739.5" font-size="10.4" text-anchor="end" fill="#222" stroke="#222" transform="rotate(-90 345.8 739.5)">DYS</text>
<text x="360.7" y="739.5" font-size="10.4" text-anchor="end" fill="#222" stroke="#222" transform="rotate(-90 360.7 739.5)">CIS</text>
<text x="375.7" y="739.5" font-size="10.4" text-anchor="end" fill="#222" stroke="#222" transform="rotate(-90 375.7 739.5)">ICA</text>
<text x="264.3" y="696.0" font-size="10.4" text-anchor="middle" fill="#222" stroke="#222" transform="rotate(-90 264.3 696.0)">Abundance</text>
<line x1="448.6" y1="679.3" x2="448.6" y2="690.4" stroke="#C4D2D8" stroke-width="0.7" stroke-opacity="0.75" stroke-dasharray="1.6 1.4"/>
<line x1="446.0" y1="679.3" x2="451.2" y2="679.3" stroke="#C4D2D8" stroke-width="0.7"/>
<line x1="448.6" y1="704.0" x2="448.6" y2="704.5" stroke="#C4D2D8" stroke-width="0.7" stroke-opacity="0.75" stroke-dasharray="1.6 1.4"/>
<line x1="446.0" y1="704.5" x2="451.2" y2="704.5" stroke="#C4D2D8" stroke-width="0.7"/>
<rect x="442.5" y="690.4" width="12.2" height="13.6" fill="#fff" fill-opacity="0.55" stroke="#CDCFCB" stroke-width="0.9"/>
<line x1="442.5" y1="703.5" x2="454.7" y2="703.5" stroke="#B0B4A6" stroke-width="1.05"/>
<line x1="463.6" y1="712.8" x2="463.6" y2="720.4" stroke="#F0D878" stroke-width="0.7" stroke-opacity="0.75" stroke-dasharray="1.6 1.4"/>
<line x1="461.0" y1="712.8" x2="466.2" y2="712.8" stroke="#F0D878" stroke-width="0.7"/>
<rect x="457.5" y="720.4" width="12.2" height="10.1" fill="#fff" fill-opacity="0.55" stroke="#DCDCB8" stroke-width="0.9"/>
<line x1="457.5" y1="729.2" x2="469.7" y2="729.2" stroke="#DDB448" stroke-width="1.05"/>
<circle cx="463.6" cy="712.8" r="1.3" fill="#F4DA78"/>
<circle cx="463.6" cy="725.5" r="1.3" fill="#F4DA78"/>
<circle cx="460.6" cy="730.0" r="1.3" fill="#F4DA78"/>
<circle cx="463.6" cy="730.3" r="1.3" fill="#F4DA78"/>
<circle cx="466.6" cy="730.0" r="1.3" fill="#F4DA78"/>
<line x1="478.5" y1="693.0" x2="478.5" y2="698.4" stroke="#EBA860" stroke-width="0.7" stroke-opacity="0.75" stroke-dasharray="1.6 1.4"/>
<line x1="475.9" y1="693.0" x2="481.1" y2="693.0" stroke="#EBA860" stroke-width="0.7"/>
<line x1="478.5" y1="718.2" x2="478.5" y2="730.5" stroke="#EBA860" stroke-width="0.7" stroke-opacity="0.75" stroke-dasharray="1.6 1.4"/>
<line x1="475.9" y1="730.5" x2="481.1" y2="730.5" stroke="#EBA860" stroke-width="0.7"/>
<rect x="472.4" y="698.4" width="12.2" height="19.8" fill="#fff" fill-opacity="0.55" stroke="#DDD0B8" stroke-width="0.9"/>
<line x1="472.4" y1="705.2" x2="484.6" y2="705.2" stroke="#CB8A36" stroke-width="1.05"/>
<circle cx="478.5" cy="693.0" r="1.3" fill="#E2943A"/>
<circle cx="478.5" cy="695.5" r="1.3" fill="#E2943A"/>
<circle cx="478.5" cy="699.2" r="1.3" fill="#E2943A"/>
<circle cx="478.5" cy="705.2" r="1.3" fill="#E2943A"/>
<circle cx="478.5" cy="714.0" r="1.3" fill="#E2943A"/>
<circle cx="478.5" cy="722.4" r="1.3" fill="#E2943A"/>
<circle cx="478.5" cy="730.5" r="1.3" fill="#E2943A"/>
<line x1="493.8" y1="693.0" x2="493.8" y2="705.2" stroke="#E07060" stroke-width="0.7" stroke-opacity="0.75" stroke-dasharray="1.6 1.4"/>
<line x1="491.2" y1="693.0" x2="496.4" y2="693.0" stroke="#E07060" stroke-width="0.7"/>
<line x1="493.8" y1="724.6" x2="493.8" y2="727.2" stroke="#E07060" stroke-width="0.7" stroke-opacity="0.75" stroke-dasharray="1.6 1.4"/>
<line x1="491.2" y1="727.2" x2="496.4" y2="727.2" stroke="#E07060" stroke-width="0.7"/>
<rect x="487.7" y="705.2" width="12.2" height="19.4" fill="#fff" fill-opacity="0.55" stroke="#DEC4BC" stroke-width="0.9"/>
<line x1="487.7" y1="716.5" x2="499.9" y2="716.5" stroke="#A09060" stroke-width="1.05"/>
<circle cx="493.8" cy="693.0" r="1.3" fill="#A01010"/>
<circle cx="493.8" cy="705.2" r="1.3" fill="#A01010"/>
<circle cx="493.8" cy="710.7" r="1.3" fill="#A01010"/>
<circle cx="493.8" cy="722.4" r="1.3" fill="#A01010"/>
<circle cx="493.8" cy="724.6" r="1.3" fill="#A01010"/>
<circle cx="493.8" cy="727.2" r="1.3" fill="#A01010"/>
<line x1="508.7" y1="704.6" x2="508.7" y2="713.1" stroke="#C07060" stroke-width="0.7" stroke-opacity="0.75" stroke-dasharray="1.6 1.4"/>
<line x1="506.1" y1="704.6" x2="511.3" y2="704.6" stroke="#C07060" stroke-width="0.7"/>
<line x1="508.7" y1="728.3" x2="508.7" y2="730.5" stroke="#C07060" stroke-width="0.7" stroke-opacity="0.75" stroke-dasharray="1.6 1.4"/>
<line x1="506.1" y1="730.5" x2="511.3" y2="730.5" stroke="#C07060" stroke-width="0.7"/>
<rect x="502.6" y="713.1" width="12.2" height="15.2" fill="#fff" fill-opacity="0.55" stroke="#D8C6B4" stroke-width="0.9"/>
<line x1="502.6" y1="728.0" x2="514.8" y2="728.0" stroke="#A09060" stroke-width="1.05"/>
<circle cx="508.7" cy="704.6" r="1.3" fill="#2A0606"/>
<circle cx="508.7" cy="713.3" r="1.3" fill="#2A0606"/>
<circle cx="508.7" cy="726.6" r="1.3" fill="#2A0606"/>
<circle cx="506.0" cy="730.5" r="1.3" fill="#2A0606"/>
<circle cx="508.7" cy="730.5" r="1.3" fill="#2A0606"/>
<circle cx="511.2" cy="730.5" r="1.3" fill="#2A0606"/>
<line x1="464.5" y1="659.5" x2="492.9" y2="659.5" stroke="#484848" stroke-width="1.45"/>
<text x="478.5" y="660.5" font-size="8.5" text-anchor="middle" font-weight="bold" fill="#222" stroke="#222" letter-spacing="0.7">*</text>
<line x1="464.5" y1="664.5" x2="477.7" y2="664.5" stroke="#484848" stroke-width="1.45"/>
<text x="470.9" y="665.5" font-size="8.5" text-anchor="middle" font-weight="bold" fill="#222" stroke="#222" letter-spacing="0.7">*</text>
<line x1="448.6" y1="669.3" x2="508.2" y2="669.3" stroke="#484848" stroke-width="1.45"/>
<text x="478.5" y="670.3" font-size="8.5" text-anchor="middle" font-weight="bold" fill="#222" stroke="#222" letter-spacing="0.7">*</text>
<line x1="448.6" y1="674.7" x2="463.3" y2="674.7" stroke="#484848" stroke-width="1.45"/>
<text x="455.7" y="675.7" font-size="8.5" text-anchor="middle" font-weight="bold" fill="#222" stroke="#222" letter-spacing="0.7">*</text>
<rect x="438.3" y="654.4" width="80.3" height="82.1" fill="none" stroke="#666" stroke-width="0.9"/>
<line x1="436.3" y1="672.6" x2="438.3" y2="672.6" stroke="#8a8a8a" stroke-width="0.8"/>
<text x="435.4" y="676.3" font-size="10.4" text-anchor="end" fill="#222" stroke="#222">0.03</text>
<line x1="436.3" y1="692.0" x2="438.3" y2="692.0" stroke="#8a8a8a" stroke-width="0.8"/>
<text x="435.4" y="695.7" font-size="10.4" text-anchor="end" fill="#222" stroke="#222">0.02</text>
<line x1="436.3" y1="711.4" x2="438.3" y2="711.4" stroke="#8a8a8a" stroke-width="0.8"/>
<text x="435.4" y="715.1" font-size="10.4" text-anchor="end" fill="#222" stroke="#222">0.01</text>
<line x1="436.3" y1="730.6" x2="438.3" y2="730.6" stroke="#8a8a8a" stroke-width="0.8"/>
<text x="435.4" y="734.3" font-size="10.4" text-anchor="end" fill="#222" stroke="#222">0.00</text>
<text x="477.7" y="649.3" font-size="10.4" text-anchor="middle" fill="#222" stroke="#222">CD4 T cells</text>
<line x1="448.6" y1="736.5" x2="448.6" y2="738.5" stroke="#999" stroke-width="0.7"/>
<line x1="463.6" y1="736.5" x2="463.6" y2="738.5" stroke="#999" stroke-width="0.7"/>
<line x1="478.5" y1="736.5" x2="478.5" y2="738.5" stroke="#999" stroke-width="0.7"/>
<line x1="493.8" y1="736.5" x2="493.8" y2="738.5" stroke="#999" stroke-width="0.7"/>
<line x1="508.7" y1="736.5" x2="508.7" y2="738.5" stroke="#999" stroke-width="0.7"/>
<text x="452.3" y="739.6" font-size="10.4" text-anchor="end" fill="#222" stroke="#222" transform="rotate(-90 452.3 739.6)">NOR</text>
<text x="467.3" y="739.6" font-size="10.4" text-anchor="end" fill="#222" stroke="#222" transform="rotate(-90 467.3 739.6)">HYP</text>
<text x="482.2" y="739.6" font-size="10.4" text-anchor="end" fill="#222" stroke="#222" transform="rotate(-90 482.2 739.6)">DYS</text>
<text x="497.5" y="739.6" font-size="10.4" text-anchor="end" fill="#222" stroke="#222" transform="rotate(-90 497.5 739.6)">CIS</text>
<text x="512.4" y="739.6" font-size="10.4" text-anchor="end" fill="#222" stroke="#222" transform="rotate(-90 512.4 739.6)">ICA</text>
<text x="406.8" y="696.0" font-size="10.4" text-anchor="middle" fill="#222" stroke="#222" transform="rotate(-90 406.8 696.0)">Abundance</text>
</g>
<g id="panelF">
<text x="0" y="0" font-size="16.8" font-weight="bold" fill="#000" stroke="#000" transform="translate(2.2 646.9) scale(0.92 1)">F</text>
<line x1="74.5" y1="727.4" x2="74.5" y2="730.5" stroke="#C4D2D8" stroke-width="0.7" stroke-opacity="0.75" stroke-dasharray="1.6 1.4"/>
<line x1="71.9" y1="727.4" x2="77.1" y2="727.4" stroke="#C4D2D8" stroke-width="0.7"/>
<line x1="74.5" y1="737.3" x2="74.5" y2="741.5" stroke="#C4D2D8" stroke-width="0.7" stroke-opacity="0.75" stroke-dasharray="1.6 1.4"/>
<line x1="71.9" y1="741.5" x2="77.1" y2="741.5" stroke="#C4D2D8" stroke-width="0.7"/>
<rect x="66.8" y="730.5" width="15.4" height="6.8" fill="#fff" fill-opacity="0.55" stroke="#CDCFCB" stroke-width="0.9"/>
<line x1="66.8" y1="733.1" x2="82.2" y2="733.1" stroke="#B0B4A6" stroke-width="1.05"/>
<circle cx="74.5" cy="727.4" r="1.3" fill="#C2CCD0"/>
<circle cx="74.5" cy="741.5" r="1.3" fill="#C2CCD0"/>
<line x1="93.1" y1="705.5" x2="93.1" y2="708.1" stroke="#F0D878" stroke-width="0.7" stroke-opacity="0.75" stroke-dasharray="1.6 1.4"/>
<line x1="90.5" y1="705.5" x2="95.7" y2="705.5" stroke="#F0D878" stroke-width="0.7"/>
<line x1="93.1" y1="716.6" x2="93.1" y2="723.1" stroke="#F0D878" stroke-width="0.7" stroke-opacity="0.75" stroke-dasharray="1.6 1.4"/>
<line x1="90.5" y1="723.1" x2="95.7" y2="723.1" stroke="#F0D878" stroke-width="0.7"/>
<rect x="85.4" y="708.1" width="15.4" height="8.5" fill="#fff" fill-opacity="0.55" stroke="#DCDCB8" stroke-width="0.9"/>
<line x1="85.4" y1="713.0" x2="100.8" y2="713.0" stroke="#DDB448" stroke-width="1.05"/>
<circle cx="93.1" cy="690.8" r="1.3" fill="#F4DA78"/>
<circle cx="93.1" cy="706.5" r="1.3" fill="#F4DA78"/>
<circle cx="93.1" cy="709.5" r="1.3" fill="#F4DA78"/>
<circle cx="93.1" cy="712.0" r="1.3" fill="#F4DA78"/>
<circle cx="93.1" cy="715.0" r="1.3" fill="#F4DA78"/>
<circle cx="93.1" cy="718.0" r="1.3" fill="#F4DA78"/>
<circle cx="93.1" cy="723.1" r="1.3" fill="#F4DA78"/>
<line x1="111.1" y1="697.5" x2="111.1" y2="710.4" stroke="#EBA860" stroke-width="0.7" stroke-opacity="0.75" stroke-dasharray="1.6 1.4"/>
<line x1="108.5" y1="697.5" x2="113.7" y2="697.5" stroke="#EBA860" stroke-width="0.7"/>
<line x1="111.1" y1="719.3" x2="111.1" y2="723.1" stroke="#EBA860" stroke-width="0.7" stroke-opacity="0.75" stroke-dasharray="1.6 1.4"/>
<line x1="108.5" y1="723.1" x2="113.7" y2="723.1" stroke="#EBA860" stroke-width="0.7"/>
<rect x="103.4" y="710.4" width="15.4" height="8.9" fill="#fff" fill-opacity="0.55" stroke="#DDD0B8" stroke-width="0.9"/>
<line x1="103.4" y1="717.2" x2="118.8" y2="717.2" stroke="#CB8A36" stroke-width="1.05"/>
<circle cx="111.1" cy="697.5" r="1.3" fill="#E2943A"/>
<circle cx="111.1" cy="708.7" r="1.3" fill="#E2943A"/>
<circle cx="111.1" cy="713.0" r="1.3" fill="#E2943A"/>
<circle cx="111.1" cy="717.2" r="1.3" fill="#E2943A"/>
<circle cx="109.6" cy="720.0" r="1.3" fill="#E2943A"/>
<circle cx="112.6" cy="720.4" r="1.3" fill="#E2943A"/>
<circle cx="111.1" cy="723.1" r="1.3" fill="#E2943A"/>
<line x1="129.0" y1="678.5" x2="129.0" y2="681.3" stroke="#E07060" stroke-width="0.7" stroke-opacity="0.75" stroke-dasharray="1.6 1.4"/>
<line x1="126.4" y1="678.5" x2="131.6" y2="678.5" stroke="#E07060" stroke-width="0.7"/>
<line x1="129.0" y1="707.7" x2="129.0" y2="714.5" stroke="#E07060" stroke-width="0.7" stroke-opacity="0.75" stroke-dasharray="1.6 1.4"/>
<line x1="126.4" y1="714.5" x2="131.6" y2="714.5" stroke="#E07060" stroke-width="0.7"/>
<rect x="121.3" y="681.3" width="15.4" height="26.4" fill="#fff" fill-opacity="0.55" stroke="#DEC4BC" stroke-width="0.9"/>
<line x1="121.3" y1="699.9" x2="136.7" y2="699.9" stroke="#A09060" stroke-width="1.05"/>
<circle cx="129.0" cy="678.5" r="1.3" fill="#A01010"/>
<circle cx="129.0" cy="681.3" r="1.3" fill="#A01010"/>
<circle cx="129.0" cy="694.0" r="1.3" fill="#A01010"/>
<circle cx="131.1" cy="705.6" r="1.3" fill="#A01010"/>
<circle cx="129.0" cy="707.7" r="1.3" fill="#A01010"/>
<circle cx="129.0" cy="714.5" r="1.3" fill="#A01010"/>
<line x1="147.0" y1="690.8" x2="147.0" y2="691.8" stroke="#C07060" stroke-width="0.7" stroke-opacity="0.75" stroke-dasharray="1.6 1.4"/>
<line x1="144.4" y1="690.8" x2="149.6" y2="690.8" stroke="#C07060" stroke-width="0.7"/>
<line x1="147.0" y1="703.0" x2="147.0" y2="713.6" stroke="#C07060" stroke-width="0.7" stroke-opacity="0.75" stroke-dasharray="1.6 1.4"/>
<line x1="144.4" y1="713.6" x2="149.6" y2="713.6" stroke="#C07060" stroke-width="0.7"/>
<rect x="139.3" y="691.8" width="15.4" height="11.2" fill="#fff" fill-opacity="0.55" stroke="#D8C6B4" stroke-width="0.9"/>
<line x1="139.3" y1="696.1" x2="154.7" y2="696.1" stroke="#A09060" stroke-width="1.05"/>
<circle cx="147.0" cy="690.8" r="1.3" fill="#2A0606"/>
<circle cx="149.1" cy="692.5" r="1.3" fill="#2A0606"/>
<circle cx="147.4" cy="695.0" r="1.3" fill="#2A0606"/>
<circle cx="147.4" cy="697.5" r="1.3" fill="#2A0606"/>
<circle cx="147.4" cy="702.8" r="1.3" fill="#2A0606"/>
<circle cx="147.0" cy="713.6" r="1.3" fill="#2A0606"/>
<line x1="74.0" y1="656.3" x2="146.4" y2="656.3" stroke="#484848" stroke-width="1.45"/>
<text x="110.4" y="657.3" font-size="8.5" text-anchor="middle" font-weight="bold" fill="#222" stroke="#222" letter-spacing="0.7">*</text>
<line x1="74.0" y1="661.2" x2="128.0" y2="661.2" stroke="#484848" stroke-width="1.45"/>
<text x="101.1" y="662.2" font-size="8.5" text-anchor="middle" font-weight="bold" fill="#222" stroke="#222" letter-spacing="0.7">*</text>
<line x1="74.0" y1="666.2" x2="109.6" y2="666.2" stroke="#484848" stroke-width="1.45"/>
<text x="92.0" y="667.2" font-size="8.5" text-anchor="middle" font-weight="bold" fill="#222" stroke="#222" letter-spacing="0.7">*</text>
<line x1="111.7" y1="666.2" x2="146.4" y2="666.2" stroke="#484848" stroke-width="1.45"/>
<text x="129.0" y="667.2" font-size="8.5" text-anchor="middle" font-weight="bold" fill="#222" stroke="#222" letter-spacing="0.7">*</text>
<line x1="74.0" y1="671.3" x2="92.0" y2="671.3" stroke="#484848" stroke-width="1.45"/>
<text x="83.1" y="672.3" font-size="8.5" text-anchor="middle" font-weight="bold" fill="#222" stroke="#222" letter-spacing="0.7">*</text>
<line x1="109.6" y1="671.3" x2="128.0" y2="671.3" stroke="#484848" stroke-width="1.45"/>
<text x="118.5" y="672.3" font-size="8.5" text-anchor="middle" font-weight="bold" fill="#222" stroke="#222" letter-spacing="0.7">*</text>
<rect x="61.3" y="649.5" width="99.5" height="99.0" fill="none" stroke="#666" stroke-width="0.9"/>
<line x1="59.3" y1="658.5" x2="61.3" y2="658.5" stroke="#8a8a8a" stroke-width="0.8"/>
<text x="58.4" y="662.2" font-size="10.4" text-anchor="end" fill="#222" stroke="#222">1.5</text>
<line x1="59.3" y1="675.3" x2="61.3" y2="675.3" stroke="#8a8a8a" stroke-width="0.8"/>
<text x="58.4" y="679.0" font-size="10.4" text-anchor="end" fill="#222" stroke="#222">1.0</text>
<line x1="59.3" y1="692.2" x2="61.3" y2="692.2" stroke="#8a8a8a" stroke-width="0.8"/>
<text x="58.4" y="695.9" font-size="10.4" text-anchor="end" fill="#222" stroke="#222">0.5</text>
<line x1="59.3" y1="708.8" x2="61.3" y2="708.8" stroke="#8a8a8a" stroke-width="0.8"/>
<text x="58.4" y="712.5" font-size="10.4" text-anchor="end" fill="#222" stroke="#222">0.0</text>
<line x1="59.3" y1="725.7" x2="61.3" y2="725.7" stroke="#8a8a8a" stroke-width="0.8"/>
<text x="58.4" y="729.4" font-size="10.4" text-anchor="end" fill="#222" stroke="#222">-0.5</text>
<line x1="59.3" y1="742.3" x2="61.3" y2="742.3" stroke="#8a8a8a" stroke-width="0.8"/>
<text x="58.4" y="746.0" font-size="10.4" text-anchor="end" fill="#222" stroke="#222">-1.0</text>
<line x1="74.5" y1="748.5" x2="74.5" y2="750.5" stroke="#999" stroke-width="0.7"/>
<text x="82.9" y="756.0" font-size="10.4" text-anchor="end" fill="#222" stroke="#222" transform="rotate(-50 82.9 756.0)">NOR</text>
<line x1="93.1" y1="748.5" x2="93.1" y2="750.5" stroke="#999" stroke-width="0.7"/>
<text x="101.5" y="756.0" font-size="10.4" text-anchor="end" fill="#222" stroke="#222" transform="rotate(-50 101.5 756.0)">HYP</text>
<line x1="111.1" y1="748.5" x2="111.1" y2="750.5" stroke="#999" stroke-width="0.7"/>
<text x="119.5" y="756.0" font-size="10.4" text-anchor="end" fill="#222" stroke="#222" transform="rotate(-50 119.5 756.0)">DYS</text>
<line x1="129.0" y1="748.5" x2="129.0" y2="750.5" stroke="#999" stroke-width="0.7"/>
<text x="137.4" y="756.0" font-size="10.4" text-anchor="end" fill="#222" stroke="#222" transform="rotate(-50 137.4 756.0)">CIS</text>
<line x1="147.0" y1="748.5" x2="147.0" y2="750.5" stroke="#999" stroke-width="0.7"/>
<text x="155.4" y="756.0" font-size="10.4" text-anchor="end" fill="#222" stroke="#222" transform="rotate(-50 155.4 756.0)">ICA</text>
<text x="29.8" y="704.0" font-size="10.4" text-anchor="middle" fill="#222" stroke="#222" transform="rotate(-90 29.8 704.0)">M2 signature GSVA score</text>
</g>
</svg>
</body></html>
